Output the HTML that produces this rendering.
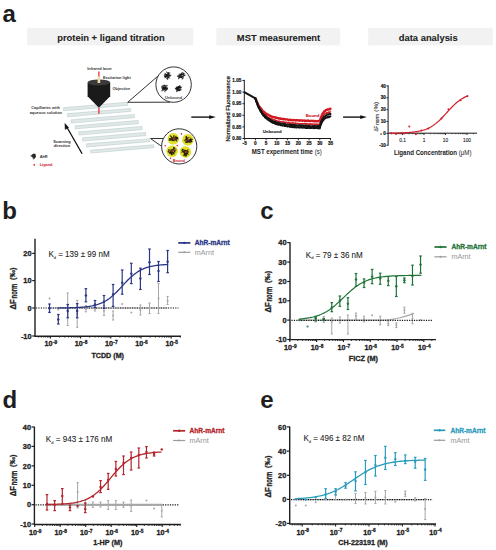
<!DOCTYPE html>
<html><head><meta charset="utf-8"><style>
html,body{margin:0;padding:0;background:#fff;}
svg{display:block;}
</style></head><body>
<svg width="496" height="550" viewBox="0 0 496 550" style='font-family:"Liberation Sans", sans-serif'>
<rect width="496" height="550" fill="#fff"/>
<text x="2.40" y="21.70" font-size="24" font-weight="bold" fill="#1e1e1e" text-anchor="start" stroke="none">a</text>
<text x="2.30" y="219.10" font-size="24" font-weight="bold" fill="#1e1e1e" text-anchor="start" stroke="none">b</text>
<text x="260.20" y="218.80" font-size="24" font-weight="bold" fill="#1e1e1e" text-anchor="start" stroke="none">c</text>
<text x="2.50" y="407.70" font-size="24" font-weight="bold" fill="#1e1e1e" text-anchor="start" stroke="none">d</text>
<text x="260.20" y="408.20" font-size="24" font-weight="bold" fill="#1e1e1e" text-anchor="start" stroke="none">e</text>
<rect x="27.2" y="27.8" width="166.1" height="17.6" fill="#f2f2f2"/>
<text x="111.00" y="40.80" font-size="9.4" font-weight="bold" fill="#222" text-anchor="middle" stroke="#222" stroke-width="0.08">protein + ligand titration</text>
<rect x="216.3" y="27.8" width="123.9" height="17.6" fill="#f2f2f2"/>
<text x="278.55" y="40.80" font-size="9.4" font-weight="bold" fill="#222" text-anchor="middle" stroke="#222" stroke-width="0.08">MST measurement</text>
<rect x="368.2" y="27.8" width="124.6" height="17.6" fill="#f2f2f2"/>
<text x="428.25" y="40.80" font-size="9.4" font-weight="bold" fill="#222" text-anchor="middle" stroke="#222" stroke-width="0.08">data analysis</text>
<line x1="63.20" y1="109.20" x2="128.00" y2="103.69" stroke="#cfdbdb" stroke-width="3.9"/>
<line x1="64.00" y1="109.20" x2="127.20" y2="103.69" stroke="#e0e8e8" stroke-width="1.9"/>
<line x1="67.10" y1="115.30" x2="131.10" y2="109.86" stroke="#cfdbdb" stroke-width="3.9"/>
<line x1="67.90" y1="115.30" x2="130.30" y2="109.86" stroke="#e0e8e8" stroke-width="1.9"/>
<line x1="70.80" y1="121.50" x2="134.80" y2="116.06" stroke="#cfdbdb" stroke-width="3.9"/>
<line x1="71.60" y1="121.50" x2="134.00" y2="116.06" stroke="#e0e8e8" stroke-width="1.9"/>
<line x1="74.70" y1="127.40" x2="138.70" y2="121.96" stroke="#cfdbdb" stroke-width="3.9"/>
<line x1="75.50" y1="127.40" x2="137.90" y2="121.96" stroke="#e0e8e8" stroke-width="1.9"/>
<line x1="78.40" y1="133.50" x2="142.40" y2="128.06" stroke="#cfdbdb" stroke-width="3.9"/>
<line x1="79.20" y1="133.50" x2="141.60" y2="128.06" stroke="#e0e8e8" stroke-width="1.9"/>
<line x1="82.10" y1="139.50" x2="146.10" y2="134.06" stroke="#cfdbdb" stroke-width="3.9"/>
<line x1="82.90" y1="139.50" x2="145.30" y2="134.06" stroke="#e0e8e8" stroke-width="1.9"/>
<line x1="86.10" y1="145.50" x2="150.00" y2="140.07" stroke="#cfdbdb" stroke-width="3.9"/>
<line x1="86.90" y1="145.50" x2="149.20" y2="140.07" stroke="#e0e8e8" stroke-width="1.9"/>
<line x1="90.20" y1="151.60" x2="154.20" y2="146.16" stroke="#cfdbdb" stroke-width="3.9"/>
<line x1="91.00" y1="151.60" x2="153.40" y2="146.16" stroke="#e0e8e8" stroke-width="1.9"/>
<path d="M87.6,82.4 L87.6,96.3 L98.9,107.8 L110.2,96.3 L110.2,82.4 Z" fill="#1a1a1a"/>
<ellipse cx="98.9" cy="82.4" rx="11.3" ry="3" fill="#3a3a3a"/>
<rect x="97.6" y="76" width="2.6" height="7" fill="#e8dcb0"/>
<line x1="98.90" y1="71.50" x2="98.90" y2="76.30" stroke="#e0202a" stroke-width="1.2"/>
<line x1="98.90" y1="108.00" x2="98.90" y2="113.80" stroke="#e0202a" stroke-width="1.2"/>
<text x="87.20" y="70.00" font-size="3.9" font-weight="bold" fill="#333" text-anchor="start">Infrared laser</text>
<text x="102.90" y="79.00" font-size="3.9" font-weight="bold" fill="#333" text-anchor="start">Excitation light</text>
<text x="112.60" y="90.20" font-size="3.9" font-weight="bold" fill="#333" text-anchor="start">Objective</text>
<text x="45.60" y="108.80" font-size="3.9" font-weight="bold" fill="#333" text-anchor="middle">Capillaries with</text>
<text x="45.80" y="113.60" font-size="3.9" font-weight="bold" fill="#333" text-anchor="middle">aqueous solution</text>
<text x="61.90" y="142.60" font-size="3.9" font-weight="bold" fill="#333" text-anchor="middle">Scanning</text>
<text x="61.90" y="147.10" font-size="3.9" font-weight="bold" fill="#333" text-anchor="middle">direction</text>
<line x1="82.10" y1="153.70" x2="66.80" y2="127.00" stroke="#111" stroke-width="1.3"/>
<path d="M64.9,123.5 L65.2,129.4 L68.6,127.5 Z" fill="#111" stroke="#111" stroke-width="0.5"/>
<path d="M33.24,155.73 Q33.54,158.02 33.57,153.75 Q34.71,155.67 33.01,156.82 Q34.26,158.68 35.34,156.66 Q32.38,154.45 34.26,158.86 Q34.08,155.69 34.73,153.86 Q33.04,157.60 35.68,155.88 Q34.81,157.06 35.25,154.33 Q34.77,153.82 30.72,155.69 Q32.05,158.08 35.02,154.16 Q35.40,154.51 33.52,155.46 Q34.05,158.21 35.26,157.20 Q35.24,157.46 32.47,154.88 Q32.71,157.56 33.47,159.48" fill="none" stroke="#222" stroke-width="0.7" stroke-linejoin="round"/>
<path d="M35.77,156.89 Q34.84,157.72 32.78,154.50 Q32.14,156.90 35.42,156.60 Q32.25,158.00 31.79,155.79 Q32.78,156.85 35.09,154.64" fill="none" stroke="#222" stroke-width="0.7" stroke-linejoin="round"/>
<text x="39.70" y="157.90" font-size="3.9" font-weight="bold" fill="#333" text-anchor="start">AhR</text>
<circle cx="34.20" cy="164.80" r="0.90" fill="#e0202a" stroke="none" stroke-width="1"/>
<text x="39.70" y="166.00" font-size="3.9" font-weight="bold" fill="#d02030" text-anchor="start">Ligand</text>
<path d="M127.7,102.3 L158,76" stroke="#333" stroke-width="1" fill="none"/>
<line x1="127.70" y1="102.30" x2="170.00" y2="102.20" stroke="#333" stroke-width="1"/>
<circle cx="173.60" cy="84.60" r="17.70" fill="#fff" stroke="#333" stroke-width="1"/>
<path d="M169.80,78.54 Q167.31,73.13 164.06,75.59 Q164.82,72.29 168.11,76.18 Q168.63,72.94 167.18,74.50 Q163.55,76.77 167.67,79.75 Q168.11,74.78 170.36,76.03 Q169.72,74.45 167.72,78.39 Q169.31,75.91 164.16,76.71 Q167.34,77.77 167.70,78.51 Q166.81,76.63 168.85,72.65 Q165.79,73.87 171.19,75.31 Q169.03,77.33 166.43,71.81 Q169.82,74.35 168.86,72.31 Q165.97,78.74 170.11,72.76" fill="none" stroke="#111" stroke-width="0.65" stroke-linejoin="round"/>
<path d="M166.47,76.76 Q166.46,74.60 165.13,75.05 Q169.28,76.33 169.21,76.01 Q168.17,76.00 164.50,76.84 Q168.27,76.65 164.93,73.26 Q165.25,74.53 168.07,75.35" fill="none" stroke="#111" stroke-width="0.65" stroke-linejoin="round"/>
<path d="M185.73,75.13 Q183.09,76.85 183.55,73.03 Q180.36,74.04 178.86,74.15 Q179.88,75.34 179.00,77.51 Q180.86,71.97 184.75,75.26 Q179.32,77.12 182.78,76.57 Q179.05,76.87 178.56,79.15 Q178.29,75.76 181.70,77.48 Q180.75,77.96 177.21,76.02 Q180.65,74.45 184.70,73.85 Q181.19,72.12 181.92,72.38 Q178.95,79.77 183.53,75.83 Q181.69,72.54 178.42,77.09 Q177.37,76.57 177.57,76.28" fill="none" stroke="#111" stroke-width="0.65" stroke-linejoin="round"/>
<path d="M182.06,79.41 Q183.50,78.24 183.07,77.17 Q183.20,76.29 180.20,74.56 Q179.39,76.97 182.64,79.04 Q183.01,77.19 183.35,76.52 Q179.05,77.97 180.68,77.18" fill="none" stroke="#111" stroke-width="0.65" stroke-linejoin="round"/>
<path d="M165.35,92.10 Q162.72,91.33 164.06,87.75 Q169.13,89.13 164.97,91.09 Q168.20,88.72 166.71,86.13 Q163.86,87.32 162.38,85.72 Q161.32,88.25 164.41,87.51 Q165.28,85.36 164.71,89.98 Q167.16,86.48 164.29,84.74 Q164.15,84.68 161.97,91.23 Q161.09,90.25 166.30,87.65 Q166.56,90.48 168.03,88.15 Q163.32,86.98 162.26,88.67 Q163.07,91.56 161.48,86.68 Q163.34,84.93 167.82,85.36" fill="none" stroke="#111" stroke-width="0.65" stroke-linejoin="round"/>
<path d="M163.12,89.27 Q167.03,91.09 167.42,88.89 Q166.01,88.12 162.70,87.95 Q167.08,89.32 164.46,86.68 Q164.88,87.39 165.19,90.06 Q162.02,88.68 162.71,87.27" fill="none" stroke="#111" stroke-width="0.65" stroke-linejoin="round"/>
<path d="M178.15,90.49 Q176.45,89.99 180.64,89.97 Q181.45,86.85 178.21,86.56 Q175.60,88.24 178.80,90.31 Q178.94,92.94 179.89,85.30 Q178.66,86.78 176.70,92.09 Q177.54,84.74 179.17,87.70 Q175.13,86.55 175.94,88.72 Q176.41,89.07 181.77,87.16 Q175.57,88.05 180.85,86.96 Q181.01,86.06 175.07,88.65 Q175.58,87.06 179.36,90.98 Q178.51,87.57 181.39,89.81 Q177.38,92.03 175.35,89.28" fill="none" stroke="#111" stroke-width="0.65" stroke-linejoin="round"/>
<path d="M176.05,87.86 Q176.60,88.05 179.13,86.11 Q177.18,87.62 176.09,88.55 Q178.00,91.93 178.97,88.78 Q179.61,86.86 176.67,90.02 Q176.99,86.82 176.97,86.37" fill="none" stroke="#111" stroke-width="0.65" stroke-linejoin="round"/>
<text x="173.60" y="98.50" font-size="3.9" font-weight="bold" fill="#444" text-anchor="middle">Unbound</text>
<line x1="150.50" y1="138.50" x2="163.00" y2="138.50" stroke="#333" stroke-width="1"/>
<line x1="150.50" y1="138.50" x2="161.70" y2="146.40" stroke="#333" stroke-width="1"/>
<circle cx="179.20" cy="146.40" r="17.60" fill="#fff" stroke="#333" stroke-width="1"/>
<circle cx="173.30" cy="138.80" r="5.80" fill="#e4df2a" stroke="none" stroke-width="1"/>
<path d="M169.73,139.90 Q176.36,137.22 169.48,138.61 Q174.73,142.09 170.29,135.60 Q175.67,140.39 177.03,141.19 Q172.79,137.42 178.09,138.26 Q171.08,135.59 173.98,139.84 Q171.73,138.52 174.25,141.21 Q176.67,139.44 169.09,140.45 Q169.35,138.32 169.26,138.81 Q170.65,139.53 178.19,138.73 Q175.54,135.29 172.29,141.13 Q172.89,140.42 173.63,135.60 Q175.10,136.20 177.67,137.62 Q175.75,138.81 176.22,136.95 Q176.48,138.41 176.84,140.55" fill="none" stroke="#1a1a10" stroke-width="0.75" stroke-linejoin="round"/>
<circle cx="173.60" cy="138.80" r="1.00" fill="#d8202a" stroke="none" stroke-width="1"/>
<circle cx="187.80" cy="139.80" r="5.80" fill="#e4df2a" stroke="none" stroke-width="1"/>
<path d="M183.83,140.44 Q186.74,137.97 190.91,140.01 Q187.13,144.19 186.39,136.20 Q184.03,138.36 189.85,142.45 Q190.25,143.78 191.96,141.41 Q191.46,141.66 186.12,142.56 Q188.50,138.73 192.16,141.55 Q185.99,139.70 192.56,139.41 Q190.30,141.94 189.71,141.97 Q186.20,138.27 187.30,138.35 Q189.91,143.72 185.14,141.72 Q184.94,137.83 186.77,140.71 Q187.09,135.03 191.80,139.20 Q185.89,142.22 186.30,136.01 Q189.73,141.48 185.46,142.52" fill="none" stroke="#1a1a10" stroke-width="0.75" stroke-linejoin="round"/>
<circle cx="188.10" cy="139.80" r="1.00" fill="#d8202a" stroke="none" stroke-width="1"/>
<circle cx="172.10" cy="151.30" r="5.80" fill="#e4df2a" stroke="none" stroke-width="1"/>
<path d="M171.87,155.40 Q170.27,147.15 173.10,153.64 Q173.62,153.31 171.90,149.27 Q169.68,150.82 171.18,154.49 Q174.13,147.99 174.83,151.55 Q174.87,154.96 173.72,147.18 Q174.07,147.52 176.27,149.92 Q171.91,155.83 167.82,151.66 Q169.05,150.00 169.92,153.80 Q171.33,153.11 173.97,147.31 Q176.20,150.93 168.07,149.87 Q174.80,154.36 169.96,152.10 Q173.16,154.76 172.03,154.72 Q169.58,149.33 174.50,153.88 Q172.33,153.85 173.16,154.21" fill="none" stroke="#1a1a10" stroke-width="0.75" stroke-linejoin="round"/>
<circle cx="172.40" cy="151.30" r="1.00" fill="#d8202a" stroke="none" stroke-width="1"/>
<circle cx="185.40" cy="152.00" r="5.80" fill="#e4df2a" stroke="none" stroke-width="1"/>
<path d="M188.65,154.58 Q182.65,148.11 185.05,154.63 Q185.00,147.99 184.06,155.87 Q181.93,154.63 187.25,153.70 Q187.89,150.22 185.11,156.41 Q183.95,150.42 181.57,150.72 Q187.44,155.45 187.53,154.08 Q187.50,153.21 188.60,151.56 Q188.74,151.80 181.82,149.13 Q184.65,150.22 182.05,149.90 Q186.17,153.66 187.94,149.46 Q186.57,155.19 186.27,156.32 Q183.52,151.99 186.15,150.36 Q185.14,153.33 185.28,150.05 Q183.60,151.71 181.33,152.50" fill="none" stroke="#1a1a10" stroke-width="0.75" stroke-linejoin="round"/>
<circle cx="185.70" cy="152.00" r="1.00" fill="#d8202a" stroke="none" stroke-width="1"/>
<circle cx="181.40" cy="133.90" r="0.80" fill="#e0202a" stroke="none" stroke-width="1"/>
<circle cx="165.20" cy="145.80" r="0.80" fill="#e0202a" stroke="none" stroke-width="1"/>
<circle cx="177.30" cy="145.60" r="0.80" fill="#e0202a" stroke="none" stroke-width="1"/>
<circle cx="170.50" cy="158.20" r="0.80" fill="#e0202a" stroke="none" stroke-width="1"/>
<text x="178.80" y="161.50" font-size="3.9" font-weight="bold" fill="#d02030" text-anchor="middle">Bound</text>
<line x1="191.30" y1="117.10" x2="210.00" y2="117.10" stroke="#111" stroke-width="1.4"/>
<path d="M209.2,115.2 L215.8,117.1 L209.2,119.0 Z" fill="#111"/>
<line x1="343.10" y1="117.10" x2="361.00" y2="117.10" stroke="#111" stroke-width="1.4"/>
<path d="M360.2,115.2 L366.8,117.1 L360.2,119.0 Z" fill="#111"/>
<line x1="35.00" y1="238.70" x2="35.00" y2="336.50" stroke="#1e1e1e" stroke-width="1.4"/>
<line x1="32.20" y1="253.40" x2="35.00" y2="253.40" stroke="#1e1e1e" stroke-width="1.2"/>
<text stroke="#1e1e1e" stroke-width="0.3" x="31.60" y="256.05" font-size="7.4" font-weight="bold" fill="#1e1e1e" text-anchor="end">20</text>
<line x1="32.20" y1="280.60" x2="35.00" y2="280.60" stroke="#1e1e1e" stroke-width="1.2"/>
<text stroke="#1e1e1e" stroke-width="0.3" x="31.60" y="283.25" font-size="7.4" font-weight="bold" fill="#1e1e1e" text-anchor="end">10</text>
<line x1="32.20" y1="308.00" x2="35.00" y2="308.00" stroke="#1e1e1e" stroke-width="1.2"/>
<text stroke="#1e1e1e" stroke-width="0.3" x="31.60" y="310.65" font-size="7.4" font-weight="bold" fill="#1e1e1e" text-anchor="end">0</text>
<line x1="32.20" y1="336.00" x2="35.00" y2="336.00" stroke="#1e1e1e" stroke-width="1.2"/>
<text stroke="#1e1e1e" stroke-width="0.3" x="31.60" y="338.65" font-size="7.4" font-weight="bold" fill="#1e1e1e" text-anchor="end">-10</text>
<line x1="34.50" y1="336.20" x2="181.00" y2="336.20" stroke="#1e1e1e" stroke-width="1.4"/>
<line x1="38.38" y1="336.20" x2="38.38" y2="337.60" stroke="#1e1e1e" stroke-width="0.9"/>
<line x1="41.31" y1="336.20" x2="41.31" y2="337.60" stroke="#1e1e1e" stroke-width="0.9"/>
<line x1="43.70" y1="336.20" x2="43.70" y2="337.60" stroke="#1e1e1e" stroke-width="0.9"/>
<line x1="45.72" y1="336.20" x2="45.72" y2="337.60" stroke="#1e1e1e" stroke-width="0.9"/>
<line x1="47.47" y1="336.20" x2="47.47" y2="337.60" stroke="#1e1e1e" stroke-width="0.9"/>
<line x1="49.02" y1="336.20" x2="49.02" y2="337.60" stroke="#1e1e1e" stroke-width="0.9"/>
<line x1="59.49" y1="336.20" x2="59.49" y2="337.60" stroke="#1e1e1e" stroke-width="0.9"/>
<line x1="64.81" y1="336.20" x2="64.81" y2="337.60" stroke="#1e1e1e" stroke-width="0.9"/>
<line x1="68.58" y1="336.20" x2="68.58" y2="337.60" stroke="#1e1e1e" stroke-width="0.9"/>
<line x1="71.51" y1="336.20" x2="71.51" y2="337.60" stroke="#1e1e1e" stroke-width="0.9"/>
<line x1="73.90" y1="336.20" x2="73.90" y2="337.60" stroke="#1e1e1e" stroke-width="0.9"/>
<line x1="75.92" y1="336.20" x2="75.92" y2="337.60" stroke="#1e1e1e" stroke-width="0.9"/>
<line x1="77.67" y1="336.20" x2="77.67" y2="337.60" stroke="#1e1e1e" stroke-width="0.9"/>
<line x1="79.22" y1="336.20" x2="79.22" y2="337.60" stroke="#1e1e1e" stroke-width="0.9"/>
<line x1="89.69" y1="336.20" x2="89.69" y2="337.60" stroke="#1e1e1e" stroke-width="0.9"/>
<line x1="95.01" y1="336.20" x2="95.01" y2="337.60" stroke="#1e1e1e" stroke-width="0.9"/>
<line x1="98.78" y1="336.20" x2="98.78" y2="337.60" stroke="#1e1e1e" stroke-width="0.9"/>
<line x1="101.71" y1="336.20" x2="101.71" y2="337.60" stroke="#1e1e1e" stroke-width="0.9"/>
<line x1="104.10" y1="336.20" x2="104.10" y2="337.60" stroke="#1e1e1e" stroke-width="0.9"/>
<line x1="106.12" y1="336.20" x2="106.12" y2="337.60" stroke="#1e1e1e" stroke-width="0.9"/>
<line x1="107.87" y1="336.20" x2="107.87" y2="337.60" stroke="#1e1e1e" stroke-width="0.9"/>
<line x1="109.42" y1="336.20" x2="109.42" y2="337.60" stroke="#1e1e1e" stroke-width="0.9"/>
<line x1="119.89" y1="336.20" x2="119.89" y2="337.60" stroke="#1e1e1e" stroke-width="0.9"/>
<line x1="125.21" y1="336.20" x2="125.21" y2="337.60" stroke="#1e1e1e" stroke-width="0.9"/>
<line x1="128.98" y1="336.20" x2="128.98" y2="337.60" stroke="#1e1e1e" stroke-width="0.9"/>
<line x1="131.91" y1="336.20" x2="131.91" y2="337.60" stroke="#1e1e1e" stroke-width="0.9"/>
<line x1="134.30" y1="336.20" x2="134.30" y2="337.60" stroke="#1e1e1e" stroke-width="0.9"/>
<line x1="136.32" y1="336.20" x2="136.32" y2="337.60" stroke="#1e1e1e" stroke-width="0.9"/>
<line x1="138.07" y1="336.20" x2="138.07" y2="337.60" stroke="#1e1e1e" stroke-width="0.9"/>
<line x1="139.62" y1="336.20" x2="139.62" y2="337.60" stroke="#1e1e1e" stroke-width="0.9"/>
<line x1="150.09" y1="336.20" x2="150.09" y2="337.60" stroke="#1e1e1e" stroke-width="0.9"/>
<line x1="155.41" y1="336.20" x2="155.41" y2="337.60" stroke="#1e1e1e" stroke-width="0.9"/>
<line x1="159.18" y1="336.20" x2="159.18" y2="337.60" stroke="#1e1e1e" stroke-width="0.9"/>
<line x1="162.11" y1="336.20" x2="162.11" y2="337.60" stroke="#1e1e1e" stroke-width="0.9"/>
<line x1="164.50" y1="336.20" x2="164.50" y2="337.60" stroke="#1e1e1e" stroke-width="0.9"/>
<line x1="166.52" y1="336.20" x2="166.52" y2="337.60" stroke="#1e1e1e" stroke-width="0.9"/>
<line x1="168.27" y1="336.20" x2="168.27" y2="337.60" stroke="#1e1e1e" stroke-width="0.9"/>
<line x1="169.82" y1="336.20" x2="169.82" y2="337.60" stroke="#1e1e1e" stroke-width="0.9"/>
<line x1="180.29" y1="336.20" x2="180.29" y2="337.60" stroke="#1e1e1e" stroke-width="0.9"/>
<line x1="50.40" y1="336.20" x2="50.40" y2="338.60" stroke="#1e1e1e" stroke-width="1.1"/>
<text stroke="#1e1e1e" stroke-width="0.3" x="50.90" y="346.40" font-size="7.2" font-weight="bold" fill="#1e1e1e" text-anchor="middle">10<tspan font-size="4.8" dy="-2.38" dx="0.3">-9</tspan></text>
<line x1="80.60" y1="336.20" x2="80.60" y2="338.60" stroke="#1e1e1e" stroke-width="1.1"/>
<text stroke="#1e1e1e" stroke-width="0.3" x="81.10" y="346.40" font-size="7.2" font-weight="bold" fill="#1e1e1e" text-anchor="middle">10<tspan font-size="4.8" dy="-2.38" dx="0.3">-8</tspan></text>
<line x1="110.80" y1="336.20" x2="110.80" y2="338.60" stroke="#1e1e1e" stroke-width="1.1"/>
<text stroke="#1e1e1e" stroke-width="0.3" x="111.30" y="346.40" font-size="7.2" font-weight="bold" fill="#1e1e1e" text-anchor="middle">10<tspan font-size="4.8" dy="-2.38" dx="0.3">-7</tspan></text>
<line x1="141.00" y1="336.20" x2="141.00" y2="338.60" stroke="#1e1e1e" stroke-width="1.1"/>
<text stroke="#1e1e1e" stroke-width="0.3" x="141.50" y="346.40" font-size="7.2" font-weight="bold" fill="#1e1e1e" text-anchor="middle">10<tspan font-size="4.8" dy="-2.38" dx="0.3">-6</tspan></text>
<line x1="171.20" y1="336.20" x2="171.20" y2="338.60" stroke="#1e1e1e" stroke-width="1.1"/>
<text stroke="#1e1e1e" stroke-width="0.3" x="171.70" y="346.40" font-size="7.2" font-weight="bold" fill="#1e1e1e" text-anchor="middle">10<tspan font-size="4.8" dy="-2.38" dx="0.3">-5</tspan></text>
<text stroke="#1e1e1e" stroke-width="0.3" x="107.70" y="358.20" font-size="7.5" font-weight="bold" fill="#1e1e1e" text-anchor="middle" textLength="32.6" lengthAdjust="spacingAndGlyphs">TCDD (M)</text>
<text stroke="#1e1e1e" stroke-width="0.3" x="15.90" y="309.40" font-size="9.8" font-weight="bold" fill="#1e1e1e" transform="rotate(-90 15.90 309.40)" textLength="10.2" lengthAdjust="spacingAndGlyphs">ΔF</text>
<text stroke="#1e1e1e" stroke-width="0.3" x="16.80" y="298.40" font-size="8.7" font-weight="bold" fill="#1e1e1e" transform="rotate(-90 16.80 298.40)" textLength="14.6" lengthAdjust="spacingAndGlyphs">norm</text>
<text stroke="#1e1e1e" stroke-width="0.3" x="14.80" y="280.00" font-size="7.8" font-weight="bold" fill="#1e1e1e" transform="rotate(-90 14.80 280.00)" textLength="12.4" lengthAdjust="spacingAndGlyphs">(‰)</text>
<text x="48.40" y="257.40" font-size="8.8" fill="#222" stroke="#222" stroke-width="0.08" textLength="61.2" lengthAdjust="spacingAndGlyphs">K<tspan font-size="4.40" dy="1.76">d</tspan><tspan dy="-1.76"> = 139 ± 99 nM</tspan></text>
<line x1="49.50" y1="308.00" x2="167.60" y2="308.00" stroke="#a6a6a6" stroke-width="1.2"/>
<line x1="36.00" y1="308.00" x2="178.50" y2="308.00" stroke="#111" stroke-width="1.2" stroke-dasharray="1.2 1.2"/>
<circle cx="49.50" cy="298.50" r="1.00" fill="#a6a6a6" stroke="none" stroke-width="1"/>
<circle cx="58.30" cy="309.60" r="1.00" fill="#a6a6a6" stroke="none" stroke-width="1"/>
<line x1="67.70" y1="293.00" x2="67.70" y2="325.50" stroke="#a6a6a6" stroke-width="1.0"/>
<line x1="66.60" y1="293.00" x2="68.80" y2="293.00" stroke="#a6a6a6" stroke-width="1.0"/>
<line x1="66.60" y1="325.50" x2="68.80" y2="325.50" stroke="#a6a6a6" stroke-width="1.0"/>
<circle cx="67.70" cy="309.00" r="1.00" fill="#a6a6a6" stroke="none" stroke-width="1"/>
<line x1="77.20" y1="300.40" x2="77.20" y2="327.30" stroke="#a6a6a6" stroke-width="1.0"/>
<line x1="76.10" y1="300.40" x2="78.30" y2="300.40" stroke="#a6a6a6" stroke-width="1.0"/>
<line x1="76.10" y1="327.30" x2="78.30" y2="327.30" stroke="#a6a6a6" stroke-width="1.0"/>
<circle cx="77.20" cy="314.00" r="1.00" fill="#a6a6a6" stroke="none" stroke-width="1"/>
<line x1="85.90" y1="305.50" x2="85.90" y2="311.80" stroke="#a6a6a6" stroke-width="1.0"/>
<line x1="84.80" y1="305.50" x2="87.00" y2="305.50" stroke="#a6a6a6" stroke-width="1.0"/>
<line x1="84.80" y1="311.80" x2="87.00" y2="311.80" stroke="#a6a6a6" stroke-width="1.0"/>
<circle cx="85.90" cy="309.00" r="1.00" fill="#a6a6a6" stroke="none" stroke-width="1"/>
<line x1="95.00" y1="305.00" x2="95.00" y2="311.00" stroke="#a6a6a6" stroke-width="1.0"/>
<line x1="93.90" y1="305.00" x2="96.10" y2="305.00" stroke="#a6a6a6" stroke-width="1.0"/>
<line x1="93.90" y1="311.00" x2="96.10" y2="311.00" stroke="#a6a6a6" stroke-width="1.0"/>
<circle cx="95.00" cy="309.00" r="1.00" fill="#a6a6a6" stroke="none" stroke-width="1"/>
<line x1="104.00" y1="305.50" x2="104.00" y2="315.50" stroke="#a6a6a6" stroke-width="1.0"/>
<line x1="102.90" y1="305.50" x2="105.10" y2="305.50" stroke="#a6a6a6" stroke-width="1.0"/>
<line x1="102.90" y1="315.50" x2="105.10" y2="315.50" stroke="#a6a6a6" stroke-width="1.0"/>
<circle cx="104.00" cy="311.00" r="1.00" fill="#a6a6a6" stroke="none" stroke-width="1"/>
<line x1="113.10" y1="311.00" x2="113.10" y2="320.00" stroke="#a6a6a6" stroke-width="1.0"/>
<line x1="112.00" y1="311.00" x2="114.20" y2="311.00" stroke="#a6a6a6" stroke-width="1.0"/>
<line x1="112.00" y1="320.00" x2="114.20" y2="320.00" stroke="#a6a6a6" stroke-width="1.0"/>
<circle cx="113.10" cy="315.50" r="1.00" fill="#a6a6a6" stroke="none" stroke-width="1"/>
<circle cx="122.20" cy="304.00" r="1.00" fill="#a6a6a6" stroke="none" stroke-width="1"/>
<circle cx="131.30" cy="312.40" r="1.00" fill="#a6a6a6" stroke="none" stroke-width="1"/>
<line x1="140.40" y1="305.00" x2="140.40" y2="315.00" stroke="#a6a6a6" stroke-width="1.0"/>
<line x1="139.30" y1="305.00" x2="141.50" y2="305.00" stroke="#a6a6a6" stroke-width="1.0"/>
<line x1="139.30" y1="315.00" x2="141.50" y2="315.00" stroke="#a6a6a6" stroke-width="1.0"/>
<circle cx="140.40" cy="310.00" r="1.00" fill="#a6a6a6" stroke="none" stroke-width="1"/>
<line x1="149.50" y1="303.00" x2="149.50" y2="313.60" stroke="#a6a6a6" stroke-width="1.0"/>
<line x1="148.40" y1="303.00" x2="150.60" y2="303.00" stroke="#a6a6a6" stroke-width="1.0"/>
<line x1="148.40" y1="313.60" x2="150.60" y2="313.60" stroke="#a6a6a6" stroke-width="1.0"/>
<circle cx="149.50" cy="308.00" r="1.00" fill="#a6a6a6" stroke="none" stroke-width="1"/>
<line x1="158.50" y1="283.60" x2="158.50" y2="313.60" stroke="#a6a6a6" stroke-width="1.0"/>
<line x1="157.40" y1="283.60" x2="159.60" y2="283.60" stroke="#a6a6a6" stroke-width="1.0"/>
<line x1="157.40" y1="313.60" x2="159.60" y2="313.60" stroke="#a6a6a6" stroke-width="1.0"/>
<circle cx="158.50" cy="298.50" r="1.00" fill="#a6a6a6" stroke="none" stroke-width="1"/>
<line x1="167.60" y1="296.40" x2="167.60" y2="304.50" stroke="#a6a6a6" stroke-width="1.0"/>
<line x1="166.50" y1="296.40" x2="168.70" y2="296.40" stroke="#a6a6a6" stroke-width="1.0"/>
<line x1="166.50" y1="304.50" x2="168.70" y2="304.50" stroke="#a6a6a6" stroke-width="1.0"/>
<circle cx="167.60" cy="301.00" r="1.00" fill="#a6a6a6" stroke="none" stroke-width="1"/>
<polyline points="58.00,307.92 59.37,307.91 60.74,307.90 62.11,307.89 63.48,307.87 64.85,307.85 66.22,307.83 67.59,307.81 68.96,307.78 70.33,307.75 71.70,307.71 73.07,307.67 74.44,307.62 75.81,307.56 77.18,307.50 78.55,307.43 79.92,307.35 81.29,307.26 82.66,307.15 84.03,307.03 85.40,306.89 86.77,306.73 88.14,306.56 89.51,306.35 90.88,306.12 92.25,305.87 93.62,305.57 94.99,305.24 96.36,304.87 97.73,304.45 99.10,303.98 100.47,303.46 101.84,302.87 103.21,302.22 104.58,301.51 105.95,300.72 107.32,299.86 108.69,298.92 110.06,297.90 111.43,296.80 112.80,295.63 114.17,294.39 115.54,293.08 116.91,291.72 118.28,290.30 119.65,288.85 121.02,287.37 122.39,285.88 123.76,284.38 125.13,282.91 126.50,281.46 127.87,280.05 129.24,278.69 130.61,277.40 131.98,276.17 133.35,275.01 134.72,273.93 136.09,272.92 137.46,271.99 138.83,271.14 140.20,270.37 141.57,269.66 142.94,269.03 144.31,268.45 145.68,267.94 147.05,267.48 148.42,267.07 149.79,266.70 151.16,266.38 152.53,266.09 153.90,265.84 155.27,265.61 156.64,265.41 158.01,265.24 159.38,265.08 160.75,264.95 162.12,264.83 163.49,264.73 164.86,264.64 166.23,264.56 167.60,264.49" fill="none" stroke="#2b3684" stroke-width="1.3" stroke-linejoin="round" stroke-linecap="round"/>
<line x1="49.50" y1="304.00" x2="49.50" y2="312.40" stroke="#2b3684" stroke-width="1.2"/>
<line x1="48.20" y1="304.00" x2="50.80" y2="304.00" stroke="#2b3684" stroke-width="1.2"/>
<line x1="48.20" y1="312.40" x2="50.80" y2="312.40" stroke="#2b3684" stroke-width="1.2"/>
<circle cx="49.50" cy="308.20" r="1.20" fill="#2b3684" stroke="none" stroke-width="1"/>
<line x1="58.30" y1="314.50" x2="58.30" y2="324.00" stroke="#2b3684" stroke-width="1.2"/>
<line x1="57.00" y1="314.50" x2="59.60" y2="314.50" stroke="#2b3684" stroke-width="1.2"/>
<line x1="57.00" y1="324.00" x2="59.60" y2="324.00" stroke="#2b3684" stroke-width="1.2"/>
<circle cx="58.30" cy="319.50" r="1.20" fill="#2b3684" stroke="none" stroke-width="1"/>
<line x1="67.70" y1="304.50" x2="67.70" y2="317.80" stroke="#2b3684" stroke-width="1.2"/>
<line x1="66.40" y1="304.50" x2="69.00" y2="304.50" stroke="#2b3684" stroke-width="1.2"/>
<line x1="66.40" y1="317.80" x2="69.00" y2="317.80" stroke="#2b3684" stroke-width="1.2"/>
<circle cx="67.70" cy="311.00" r="1.20" fill="#2b3684" stroke="none" stroke-width="1"/>
<line x1="77.20" y1="303.60" x2="77.20" y2="317.80" stroke="#2b3684" stroke-width="1.2"/>
<line x1="75.90" y1="303.60" x2="78.50" y2="303.60" stroke="#2b3684" stroke-width="1.2"/>
<line x1="75.90" y1="317.80" x2="78.50" y2="317.80" stroke="#2b3684" stroke-width="1.2"/>
<circle cx="77.20" cy="311.00" r="1.20" fill="#2b3684" stroke="none" stroke-width="1"/>
<line x1="85.90" y1="288.70" x2="85.90" y2="301.80" stroke="#2b3684" stroke-width="1.2"/>
<line x1="84.60" y1="288.70" x2="87.20" y2="288.70" stroke="#2b3684" stroke-width="1.2"/>
<line x1="84.60" y1="301.80" x2="87.20" y2="301.80" stroke="#2b3684" stroke-width="1.2"/>
<circle cx="85.90" cy="295.50" r="1.20" fill="#2b3684" stroke="none" stroke-width="1"/>
<line x1="95.00" y1="300.50" x2="95.00" y2="307.60" stroke="#2b3684" stroke-width="1.2"/>
<line x1="93.70" y1="300.50" x2="96.30" y2="300.50" stroke="#2b3684" stroke-width="1.2"/>
<line x1="93.70" y1="307.60" x2="96.30" y2="307.60" stroke="#2b3684" stroke-width="1.2"/>
<circle cx="95.00" cy="304.50" r="1.20" fill="#2b3684" stroke="none" stroke-width="1"/>
<line x1="104.00" y1="295.50" x2="104.00" y2="308.40" stroke="#2b3684" stroke-width="1.2"/>
<line x1="102.70" y1="295.50" x2="105.30" y2="295.50" stroke="#2b3684" stroke-width="1.2"/>
<line x1="102.70" y1="308.40" x2="105.30" y2="308.40" stroke="#2b3684" stroke-width="1.2"/>
<circle cx="104.00" cy="301.80" r="1.20" fill="#2b3684" stroke="none" stroke-width="1"/>
<line x1="113.10" y1="284.50" x2="113.10" y2="306.40" stroke="#2b3684" stroke-width="1.2"/>
<line x1="111.80" y1="284.50" x2="114.40" y2="284.50" stroke="#2b3684" stroke-width="1.2"/>
<line x1="111.80" y1="306.40" x2="114.40" y2="306.40" stroke="#2b3684" stroke-width="1.2"/>
<circle cx="113.10" cy="294.50" r="1.20" fill="#2b3684" stroke="none" stroke-width="1"/>
<line x1="122.20" y1="270.00" x2="122.20" y2="294.20" stroke="#2b3684" stroke-width="1.2"/>
<line x1="120.90" y1="270.00" x2="123.50" y2="270.00" stroke="#2b3684" stroke-width="1.2"/>
<line x1="120.90" y1="294.20" x2="123.50" y2="294.20" stroke="#2b3684" stroke-width="1.2"/>
<circle cx="122.20" cy="282.70" r="1.20" fill="#2b3684" stroke="none" stroke-width="1"/>
<line x1="131.30" y1="263.30" x2="131.30" y2="283.60" stroke="#2b3684" stroke-width="1.2"/>
<line x1="130.00" y1="263.30" x2="132.60" y2="263.30" stroke="#2b3684" stroke-width="1.2"/>
<line x1="130.00" y1="283.60" x2="132.60" y2="283.60" stroke="#2b3684" stroke-width="1.2"/>
<circle cx="131.30" cy="273.60" r="1.20" fill="#2b3684" stroke="none" stroke-width="1"/>
<line x1="140.40" y1="268.20" x2="140.40" y2="289.50" stroke="#2b3684" stroke-width="1.2"/>
<line x1="139.10" y1="268.20" x2="141.70" y2="268.20" stroke="#2b3684" stroke-width="1.2"/>
<line x1="139.10" y1="289.50" x2="141.70" y2="289.50" stroke="#2b3684" stroke-width="1.2"/>
<circle cx="140.40" cy="278.50" r="1.20" fill="#2b3684" stroke="none" stroke-width="1"/>
<line x1="149.50" y1="249.00" x2="149.50" y2="274.50" stroke="#2b3684" stroke-width="1.2"/>
<line x1="148.20" y1="249.00" x2="150.80" y2="249.00" stroke="#2b3684" stroke-width="1.2"/>
<line x1="148.20" y1="274.50" x2="150.80" y2="274.50" stroke="#2b3684" stroke-width="1.2"/>
<circle cx="149.50" cy="262.20" r="1.20" fill="#2b3684" stroke="none" stroke-width="1"/>
<line x1="158.50" y1="261.50" x2="158.50" y2="281.50" stroke="#2b3684" stroke-width="1.2"/>
<line x1="157.20" y1="261.50" x2="159.80" y2="261.50" stroke="#2b3684" stroke-width="1.2"/>
<line x1="157.20" y1="281.50" x2="159.80" y2="281.50" stroke="#2b3684" stroke-width="1.2"/>
<circle cx="158.50" cy="271.00" r="1.20" fill="#2b3684" stroke="none" stroke-width="1"/>
<line x1="167.60" y1="250.50" x2="167.60" y2="272.70" stroke="#2b3684" stroke-width="1.2"/>
<line x1="166.30" y1="250.50" x2="168.90" y2="250.50" stroke="#2b3684" stroke-width="1.2"/>
<line x1="166.30" y1="272.70" x2="168.90" y2="272.70" stroke="#2b3684" stroke-width="1.2"/>
<circle cx="167.60" cy="261.80" r="1.20" fill="#2b3684" stroke="none" stroke-width="1"/>
<line x1="178.20" y1="242.90" x2="190.40" y2="242.90" stroke="#2b3684" stroke-width="1.7"/>
<circle cx="184.30" cy="242.90" r="1.20" fill="#2b3684" stroke="none" stroke-width="1"/>
<text stroke="#2b3684" stroke-width="0.3" x="194.80" y="245.33" font-size="6.8" font-weight="bold" fill="#2b3684" textLength="35" lengthAdjust="spacingAndGlyphs">AhR-mArnt</text>
<line x1="178.20" y1="252.30" x2="190.40" y2="252.30" stroke="#9c9c9c" stroke-width="1.2"/>
<circle cx="184.30" cy="252.30" r="1.00" fill="#9c9c9c" stroke="none" stroke-width="1"/>
<text x="194.80" y="254.93" font-size="7.1" fill="#9c9c9c" stroke="#9c9c9c" stroke-width="0.05" textLength="19.2" lengthAdjust="spacingAndGlyphs">mArnt</text>
<line x1="290.00" y1="242.30" x2="290.00" y2="340.20" stroke="#1e1e1e" stroke-width="1.4"/>
<line x1="287.20" y1="242.60" x2="290.00" y2="242.60" stroke="#1e1e1e" stroke-width="1.2"/>
<text stroke="#1e1e1e" stroke-width="0.3" x="286.60" y="245.25" font-size="7.4" font-weight="bold" fill="#1e1e1e" text-anchor="end">40</text>
<line x1="287.20" y1="262.10" x2="290.00" y2="262.10" stroke="#1e1e1e" stroke-width="1.2"/>
<text stroke="#1e1e1e" stroke-width="0.3" x="286.60" y="264.75" font-size="7.4" font-weight="bold" fill="#1e1e1e" text-anchor="end">30</text>
<line x1="287.20" y1="281.50" x2="290.00" y2="281.50" stroke="#1e1e1e" stroke-width="1.2"/>
<text stroke="#1e1e1e" stroke-width="0.3" x="286.60" y="284.15" font-size="7.4" font-weight="bold" fill="#1e1e1e" text-anchor="end">20</text>
<line x1="287.20" y1="300.80" x2="290.00" y2="300.80" stroke="#1e1e1e" stroke-width="1.2"/>
<text stroke="#1e1e1e" stroke-width="0.3" x="286.60" y="303.45" font-size="7.4" font-weight="bold" fill="#1e1e1e" text-anchor="end">10</text>
<line x1="287.20" y1="320.10" x2="290.00" y2="320.10" stroke="#1e1e1e" stroke-width="1.2"/>
<text stroke="#1e1e1e" stroke-width="0.3" x="286.60" y="322.75" font-size="7.4" font-weight="bold" fill="#1e1e1e" text-anchor="end">0</text>
<line x1="287.20" y1="339.50" x2="290.00" y2="339.50" stroke="#1e1e1e" stroke-width="1.2"/>
<text stroke="#1e1e1e" stroke-width="0.3" x="286.60" y="342.15" font-size="7.4" font-weight="bold" fill="#1e1e1e" text-anchor="end">-10</text>
<line x1="289.50" y1="339.60" x2="436.00" y2="339.60" stroke="#1e1e1e" stroke-width="1.4"/>
<line x1="297.87" y1="339.60" x2="297.87" y2="341.00" stroke="#1e1e1e" stroke-width="0.9"/>
<line x1="302.59" y1="339.60" x2="302.59" y2="341.00" stroke="#1e1e1e" stroke-width="0.9"/>
<line x1="305.94" y1="339.60" x2="305.94" y2="341.00" stroke="#1e1e1e" stroke-width="0.9"/>
<line x1="308.53" y1="339.60" x2="308.53" y2="341.00" stroke="#1e1e1e" stroke-width="0.9"/>
<line x1="310.65" y1="339.60" x2="310.65" y2="341.00" stroke="#1e1e1e" stroke-width="0.9"/>
<line x1="312.45" y1="339.60" x2="312.45" y2="341.00" stroke="#1e1e1e" stroke-width="0.9"/>
<line x1="314.00" y1="339.60" x2="314.00" y2="341.00" stroke="#1e1e1e" stroke-width="0.9"/>
<line x1="315.37" y1="339.60" x2="315.37" y2="341.00" stroke="#1e1e1e" stroke-width="0.9"/>
<line x1="324.67" y1="339.60" x2="324.67" y2="341.00" stroke="#1e1e1e" stroke-width="0.9"/>
<line x1="329.39" y1="339.60" x2="329.39" y2="341.00" stroke="#1e1e1e" stroke-width="0.9"/>
<line x1="332.74" y1="339.60" x2="332.74" y2="341.00" stroke="#1e1e1e" stroke-width="0.9"/>
<line x1="335.33" y1="339.60" x2="335.33" y2="341.00" stroke="#1e1e1e" stroke-width="0.9"/>
<line x1="337.45" y1="339.60" x2="337.45" y2="341.00" stroke="#1e1e1e" stroke-width="0.9"/>
<line x1="339.25" y1="339.60" x2="339.25" y2="341.00" stroke="#1e1e1e" stroke-width="0.9"/>
<line x1="340.80" y1="339.60" x2="340.80" y2="341.00" stroke="#1e1e1e" stroke-width="0.9"/>
<line x1="342.17" y1="339.60" x2="342.17" y2="341.00" stroke="#1e1e1e" stroke-width="0.9"/>
<line x1="351.47" y1="339.60" x2="351.47" y2="341.00" stroke="#1e1e1e" stroke-width="0.9"/>
<line x1="356.19" y1="339.60" x2="356.19" y2="341.00" stroke="#1e1e1e" stroke-width="0.9"/>
<line x1="359.54" y1="339.60" x2="359.54" y2="341.00" stroke="#1e1e1e" stroke-width="0.9"/>
<line x1="362.13" y1="339.60" x2="362.13" y2="341.00" stroke="#1e1e1e" stroke-width="0.9"/>
<line x1="364.25" y1="339.60" x2="364.25" y2="341.00" stroke="#1e1e1e" stroke-width="0.9"/>
<line x1="366.05" y1="339.60" x2="366.05" y2="341.00" stroke="#1e1e1e" stroke-width="0.9"/>
<line x1="367.60" y1="339.60" x2="367.60" y2="341.00" stroke="#1e1e1e" stroke-width="0.9"/>
<line x1="368.97" y1="339.60" x2="368.97" y2="341.00" stroke="#1e1e1e" stroke-width="0.9"/>
<line x1="378.27" y1="339.60" x2="378.27" y2="341.00" stroke="#1e1e1e" stroke-width="0.9"/>
<line x1="382.99" y1="339.60" x2="382.99" y2="341.00" stroke="#1e1e1e" stroke-width="0.9"/>
<line x1="386.34" y1="339.60" x2="386.34" y2="341.00" stroke="#1e1e1e" stroke-width="0.9"/>
<line x1="388.93" y1="339.60" x2="388.93" y2="341.00" stroke="#1e1e1e" stroke-width="0.9"/>
<line x1="391.05" y1="339.60" x2="391.05" y2="341.00" stroke="#1e1e1e" stroke-width="0.9"/>
<line x1="392.85" y1="339.60" x2="392.85" y2="341.00" stroke="#1e1e1e" stroke-width="0.9"/>
<line x1="394.40" y1="339.60" x2="394.40" y2="341.00" stroke="#1e1e1e" stroke-width="0.9"/>
<line x1="395.77" y1="339.60" x2="395.77" y2="341.00" stroke="#1e1e1e" stroke-width="0.9"/>
<line x1="405.07" y1="339.60" x2="405.07" y2="341.00" stroke="#1e1e1e" stroke-width="0.9"/>
<line x1="409.79" y1="339.60" x2="409.79" y2="341.00" stroke="#1e1e1e" stroke-width="0.9"/>
<line x1="413.14" y1="339.60" x2="413.14" y2="341.00" stroke="#1e1e1e" stroke-width="0.9"/>
<line x1="415.73" y1="339.60" x2="415.73" y2="341.00" stroke="#1e1e1e" stroke-width="0.9"/>
<line x1="417.85" y1="339.60" x2="417.85" y2="341.00" stroke="#1e1e1e" stroke-width="0.9"/>
<line x1="419.65" y1="339.60" x2="419.65" y2="341.00" stroke="#1e1e1e" stroke-width="0.9"/>
<line x1="421.20" y1="339.60" x2="421.20" y2="341.00" stroke="#1e1e1e" stroke-width="0.9"/>
<line x1="422.57" y1="339.60" x2="422.57" y2="341.00" stroke="#1e1e1e" stroke-width="0.9"/>
<line x1="431.87" y1="339.60" x2="431.87" y2="341.00" stroke="#1e1e1e" stroke-width="0.9"/>
<line x1="289.80" y1="339.60" x2="289.80" y2="342.00" stroke="#1e1e1e" stroke-width="1.1"/>
<text stroke="#1e1e1e" stroke-width="0.3" x="290.30" y="350.20" font-size="7.2" font-weight="bold" fill="#1e1e1e" text-anchor="middle">10<tspan font-size="4.8" dy="-2.38" dx="0.3">-9</tspan></text>
<line x1="316.60" y1="339.60" x2="316.60" y2="342.00" stroke="#1e1e1e" stroke-width="1.1"/>
<text stroke="#1e1e1e" stroke-width="0.3" x="317.10" y="350.20" font-size="7.2" font-weight="bold" fill="#1e1e1e" text-anchor="middle">10<tspan font-size="4.8" dy="-2.38" dx="0.3">-8</tspan></text>
<line x1="343.40" y1="339.60" x2="343.40" y2="342.00" stroke="#1e1e1e" stroke-width="1.1"/>
<text stroke="#1e1e1e" stroke-width="0.3" x="343.90" y="350.20" font-size="7.2" font-weight="bold" fill="#1e1e1e" text-anchor="middle">10<tspan font-size="4.8" dy="-2.38" dx="0.3">-7</tspan></text>
<line x1="370.20" y1="339.60" x2="370.20" y2="342.00" stroke="#1e1e1e" stroke-width="1.1"/>
<text stroke="#1e1e1e" stroke-width="0.3" x="370.70" y="350.20" font-size="7.2" font-weight="bold" fill="#1e1e1e" text-anchor="middle">10<tspan font-size="4.8" dy="-2.38" dx="0.3">-6</tspan></text>
<line x1="397.00" y1="339.60" x2="397.00" y2="342.00" stroke="#1e1e1e" stroke-width="1.1"/>
<text stroke="#1e1e1e" stroke-width="0.3" x="397.50" y="350.20" font-size="7.2" font-weight="bold" fill="#1e1e1e" text-anchor="middle">10<tspan font-size="4.8" dy="-2.38" dx="0.3">-5</tspan></text>
<line x1="423.80" y1="339.60" x2="423.80" y2="342.00" stroke="#1e1e1e" stroke-width="1.1"/>
<text stroke="#1e1e1e" stroke-width="0.3" x="424.30" y="350.20" font-size="7.2" font-weight="bold" fill="#1e1e1e" text-anchor="middle">10<tspan font-size="4.8" dy="-2.38" dx="0.3">-4</tspan></text>
<text stroke="#1e1e1e" stroke-width="0.3" x="363.40" y="361.00" font-size="7.5" font-weight="bold" fill="#1e1e1e" text-anchor="middle" textLength="29.2" lengthAdjust="spacingAndGlyphs">FICZ (M)</text>
<text stroke="#1e1e1e" stroke-width="0.3" x="270.80" y="312.50" font-size="9.8" font-weight="bold" fill="#1e1e1e" transform="rotate(-90 270.80 312.50)" textLength="10.2" lengthAdjust="spacingAndGlyphs">ΔF</text>
<text stroke="#1e1e1e" stroke-width="0.3" x="271.70" y="301.50" font-size="8.7" font-weight="bold" fill="#1e1e1e" transform="rotate(-90 271.70 301.50)" textLength="14.6" lengthAdjust="spacingAndGlyphs">norm</text>
<text stroke="#1e1e1e" stroke-width="0.3" x="269.70" y="283.10" font-size="7.8" font-weight="bold" fill="#1e1e1e" transform="rotate(-90 269.70 283.10)" textLength="12.4" lengthAdjust="spacingAndGlyphs">(‰)</text>
<text x="305.80" y="257.60" font-size="8.8" fill="#222" stroke="#222" stroke-width="0.08" textLength="57" lengthAdjust="spacingAndGlyphs">K<tspan font-size="4.40" dy="1.76">d</tspan><tspan dy="-1.76"> = 79 ± 36 nM</tspan></text>
<circle cx="299.50" cy="320.00" r="1.00" fill="#a6a6a6" stroke="none" stroke-width="1"/>
<circle cx="307.57" cy="326.50" r="1.00" fill="#a6a6a6" stroke="none" stroke-width="1"/>
<line x1="315.64" y1="317.00" x2="315.64" y2="322.00" stroke="#a6a6a6" stroke-width="1.0"/>
<line x1="314.54" y1="317.00" x2="316.74" y2="317.00" stroke="#a6a6a6" stroke-width="1.0"/>
<line x1="314.54" y1="322.00" x2="316.74" y2="322.00" stroke="#a6a6a6" stroke-width="1.0"/>
<circle cx="315.64" cy="320.00" r="1.00" fill="#a6a6a6" stroke="none" stroke-width="1"/>
<line x1="323.71" y1="316.50" x2="323.71" y2="322.50" stroke="#a6a6a6" stroke-width="1.0"/>
<line x1="322.61" y1="316.50" x2="324.81" y2="316.50" stroke="#a6a6a6" stroke-width="1.0"/>
<line x1="322.61" y1="322.50" x2="324.81" y2="322.50" stroke="#a6a6a6" stroke-width="1.0"/>
<circle cx="323.71" cy="319.50" r="1.00" fill="#a6a6a6" stroke="none" stroke-width="1"/>
<line x1="331.78" y1="318.00" x2="331.78" y2="334.00" stroke="#a6a6a6" stroke-width="1.0"/>
<line x1="330.68" y1="318.00" x2="332.88" y2="318.00" stroke="#a6a6a6" stroke-width="1.0"/>
<line x1="330.68" y1="334.00" x2="332.88" y2="334.00" stroke="#a6a6a6" stroke-width="1.0"/>
<circle cx="331.78" cy="322.00" r="1.00" fill="#a6a6a6" stroke="none" stroke-width="1"/>
<line x1="339.85" y1="317.00" x2="339.85" y2="323.00" stroke="#a6a6a6" stroke-width="1.0"/>
<line x1="338.75" y1="317.00" x2="340.95" y2="317.00" stroke="#a6a6a6" stroke-width="1.0"/>
<line x1="338.75" y1="323.00" x2="340.95" y2="323.00" stroke="#a6a6a6" stroke-width="1.0"/>
<circle cx="339.85" cy="320.00" r="1.00" fill="#a6a6a6" stroke="none" stroke-width="1"/>
<line x1="347.92" y1="315.00" x2="347.92" y2="334.00" stroke="#a6a6a6" stroke-width="1.0"/>
<line x1="346.82" y1="315.00" x2="349.02" y2="315.00" stroke="#a6a6a6" stroke-width="1.0"/>
<line x1="346.82" y1="334.00" x2="349.02" y2="334.00" stroke="#a6a6a6" stroke-width="1.0"/>
<circle cx="347.92" cy="320.00" r="1.00" fill="#a6a6a6" stroke="none" stroke-width="1"/>
<line x1="355.99" y1="313.00" x2="355.99" y2="319.00" stroke="#a6a6a6" stroke-width="1.0"/>
<line x1="354.89" y1="313.00" x2="357.09" y2="313.00" stroke="#a6a6a6" stroke-width="1.0"/>
<line x1="354.89" y1="319.00" x2="357.09" y2="319.00" stroke="#a6a6a6" stroke-width="1.0"/>
<circle cx="355.99" cy="316.00" r="1.00" fill="#a6a6a6" stroke="none" stroke-width="1"/>
<line x1="364.06" y1="316.20" x2="364.06" y2="321.90" stroke="#a6a6a6" stroke-width="1.0"/>
<line x1="362.96" y1="316.20" x2="365.16" y2="316.20" stroke="#a6a6a6" stroke-width="1.0"/>
<line x1="362.96" y1="321.90" x2="365.16" y2="321.90" stroke="#a6a6a6" stroke-width="1.0"/>
<circle cx="364.06" cy="319.00" r="1.00" fill="#a6a6a6" stroke="none" stroke-width="1"/>
<circle cx="372.13" cy="315.20" r="1.00" fill="#a6a6a6" stroke="none" stroke-width="1"/>
<line x1="380.20" y1="316.20" x2="380.20" y2="324.80" stroke="#a6a6a6" stroke-width="1.0"/>
<line x1="379.10" y1="316.20" x2="381.30" y2="316.20" stroke="#a6a6a6" stroke-width="1.0"/>
<line x1="379.10" y1="324.80" x2="381.30" y2="324.80" stroke="#a6a6a6" stroke-width="1.0"/>
<circle cx="380.20" cy="320.50" r="1.00" fill="#a6a6a6" stroke="none" stroke-width="1"/>
<line x1="388.27" y1="321.00" x2="388.27" y2="325.70" stroke="#a6a6a6" stroke-width="1.0"/>
<line x1="387.17" y1="321.00" x2="389.37" y2="321.00" stroke="#a6a6a6" stroke-width="1.0"/>
<line x1="387.17" y1="325.70" x2="389.37" y2="325.70" stroke="#a6a6a6" stroke-width="1.0"/>
<circle cx="388.27" cy="323.40" r="1.00" fill="#a6a6a6" stroke="none" stroke-width="1"/>
<line x1="396.34" y1="322.90" x2="396.34" y2="327.60" stroke="#a6a6a6" stroke-width="1.0"/>
<line x1="395.24" y1="322.90" x2="397.44" y2="322.90" stroke="#a6a6a6" stroke-width="1.0"/>
<line x1="395.24" y1="327.60" x2="397.44" y2="327.60" stroke="#a6a6a6" stroke-width="1.0"/>
<circle cx="396.34" cy="325.00" r="1.00" fill="#a6a6a6" stroke="none" stroke-width="1"/>
<line x1="404.41" y1="307.20" x2="404.41" y2="313.30" stroke="#a6a6a6" stroke-width="1.0"/>
<line x1="403.31" y1="307.20" x2="405.51" y2="307.20" stroke="#a6a6a6" stroke-width="1.0"/>
<line x1="403.31" y1="313.30" x2="405.51" y2="313.30" stroke="#a6a6a6" stroke-width="1.0"/>
<circle cx="404.41" cy="310.20" r="1.00" fill="#a6a6a6" stroke="none" stroke-width="1"/>
<line x1="412.48" y1="313.30" x2="412.48" y2="323.80" stroke="#a6a6a6" stroke-width="1.0"/>
<line x1="411.38" y1="313.30" x2="413.58" y2="313.30" stroke="#a6a6a6" stroke-width="1.0"/>
<line x1="411.38" y1="323.80" x2="413.58" y2="323.80" stroke="#a6a6a6" stroke-width="1.0"/>
<circle cx="412.48" cy="318.50" r="1.00" fill="#a6a6a6" stroke="none" stroke-width="1"/>
<circle cx="420.55" cy="320.00" r="1.00" fill="#a6a6a6" stroke="none" stroke-width="1"/>
<polyline points="299.50,320.10 380.00,320.10 383.33,320.04 386.66,319.84 389.99,319.52 393.32,319.06 396.65,318.48 399.98,317.76 403.31,316.92 406.64,315.94 409.97,314.84 413.30,313.60" fill="none" stroke="#a6a6a6" stroke-width="1.2" stroke-linejoin="round" stroke-linecap="round"/>
<line x1="291.50" y1="320.30" x2="433.00" y2="320.30" stroke="#111" stroke-width="1.2" stroke-dasharray="1.2 1.2"/>
<polyline points="299.50,319.09 301.02,318.96 302.54,318.80 304.06,318.63 305.57,318.43 307.09,318.20 308.61,317.95 310.13,317.67 311.65,317.35 313.17,317.00 314.69,316.60 316.21,316.15 317.73,315.65 319.24,315.10 320.76,314.50 322.28,313.82 323.80,313.09 325.32,312.28 326.84,311.40 328.36,310.45 329.88,309.42 331.39,308.33 332.91,307.16 334.43,305.93 335.95,304.63 337.47,303.29 338.99,301.90 340.51,300.47 342.02,299.02 343.54,297.56 345.06,296.10 346.58,294.66 348.10,293.24 349.62,291.85 351.14,290.52 352.66,289.23 354.18,288.01 355.69,286.86 357.21,285.78 358.73,284.77 360.25,283.83 361.77,282.96 363.29,282.17 364.81,281.44 366.32,280.78 367.84,280.19 369.36,279.65 370.88,279.16 372.40,278.72 373.92,278.33 375.44,277.99 376.96,277.67 378.48,277.40 379.99,277.15 381.51,276.93 383.03,276.74 384.55,276.57 386.07,276.42 387.59,276.28 389.11,276.17 390.62,276.06 392.14,275.97 393.66,275.89 395.18,275.82 396.70,275.76 398.22,275.70 399.74,275.65 401.26,275.61 402.77,275.57 404.29,275.54 405.81,275.51 407.33,275.48 408.85,275.46 410.37,275.44 411.89,275.42 413.41,275.41 414.93,275.40 416.44,275.38 417.96,275.37 419.48,275.36 421.00,275.36" fill="none" stroke="#1f7337" stroke-width="1.2" stroke-linejoin="round" stroke-linecap="round"/>
<circle cx="307.57" cy="326.50" r="1.10" fill="#5f9a8a" stroke="none" stroke-width="1"/>
<circle cx="299.50" cy="320.10" r="1.20" fill="#1f7337" stroke="none" stroke-width="1"/>
<line x1="315.64" y1="316.50" x2="315.64" y2="320.80" stroke="#1f7337" stroke-width="1.2"/>
<line x1="314.34" y1="316.50" x2="316.94" y2="316.50" stroke="#1f7337" stroke-width="1.2"/>
<line x1="314.34" y1="320.80" x2="316.94" y2="320.80" stroke="#1f7337" stroke-width="1.2"/>
<circle cx="315.64" cy="318.30" r="1.20" fill="#1f7337" stroke="none" stroke-width="1"/>
<line x1="323.71" y1="318.50" x2="323.71" y2="320.50" stroke="#1f7337" stroke-width="1.2"/>
<line x1="322.41" y1="318.50" x2="325.01" y2="318.50" stroke="#1f7337" stroke-width="1.2"/>
<line x1="322.41" y1="320.50" x2="325.01" y2="320.50" stroke="#1f7337" stroke-width="1.2"/>
<circle cx="323.71" cy="319.50" r="1.20" fill="#1f7337" stroke="none" stroke-width="1"/>
<line x1="331.78" y1="302.60" x2="331.78" y2="311.70" stroke="#1f7337" stroke-width="1.2"/>
<line x1="330.48" y1="302.60" x2="333.08" y2="302.60" stroke="#1f7337" stroke-width="1.2"/>
<line x1="330.48" y1="311.70" x2="333.08" y2="311.70" stroke="#1f7337" stroke-width="1.2"/>
<circle cx="331.78" cy="307.40" r="1.20" fill="#1f7337" stroke="none" stroke-width="1"/>
<line x1="339.85" y1="296.00" x2="339.85" y2="306.30" stroke="#1f7337" stroke-width="1.2"/>
<line x1="338.55" y1="296.00" x2="341.15" y2="296.00" stroke="#1f7337" stroke-width="1.2"/>
<line x1="338.55" y1="306.30" x2="341.15" y2="306.30" stroke="#1f7337" stroke-width="1.2"/>
<circle cx="339.85" cy="300.80" r="1.20" fill="#1f7337" stroke="none" stroke-width="1"/>
<line x1="347.92" y1="297.70" x2="347.92" y2="309.50" stroke="#1f7337" stroke-width="1.2"/>
<line x1="346.62" y1="297.70" x2="349.22" y2="297.70" stroke="#1f7337" stroke-width="1.2"/>
<line x1="346.62" y1="309.50" x2="349.22" y2="309.50" stroke="#1f7337" stroke-width="1.2"/>
<circle cx="347.92" cy="303.70" r="1.20" fill="#1f7337" stroke="none" stroke-width="1"/>
<line x1="355.99" y1="273.50" x2="355.99" y2="286.30" stroke="#1f7337" stroke-width="1.2"/>
<line x1="354.69" y1="273.50" x2="357.29" y2="273.50" stroke="#1f7337" stroke-width="1.2"/>
<line x1="354.69" y1="286.30" x2="357.29" y2="286.30" stroke="#1f7337" stroke-width="1.2"/>
<circle cx="355.99" cy="279.50" r="1.20" fill="#1f7337" stroke="none" stroke-width="1"/>
<line x1="364.06" y1="278.90" x2="364.06" y2="287.50" stroke="#1f7337" stroke-width="1.2"/>
<line x1="362.76" y1="278.90" x2="365.36" y2="278.90" stroke="#1f7337" stroke-width="1.2"/>
<line x1="362.76" y1="287.50" x2="365.36" y2="287.50" stroke="#1f7337" stroke-width="1.2"/>
<circle cx="364.06" cy="282.40" r="1.20" fill="#1f7337" stroke="none" stroke-width="1"/>
<line x1="372.13" y1="269.40" x2="372.13" y2="283.70" stroke="#1f7337" stroke-width="1.2"/>
<line x1="370.83" y1="269.40" x2="373.43" y2="269.40" stroke="#1f7337" stroke-width="1.2"/>
<line x1="370.83" y1="283.70" x2="373.43" y2="283.70" stroke="#1f7337" stroke-width="1.2"/>
<circle cx="372.13" cy="276.60" r="1.20" fill="#1f7337" stroke="none" stroke-width="1"/>
<line x1="380.20" y1="273.20" x2="380.20" y2="284.30" stroke="#1f7337" stroke-width="1.2"/>
<line x1="378.90" y1="273.20" x2="381.50" y2="273.20" stroke="#1f7337" stroke-width="1.2"/>
<line x1="378.90" y1="284.30" x2="381.50" y2="284.30" stroke="#1f7337" stroke-width="1.2"/>
<circle cx="380.20" cy="278.50" r="1.20" fill="#1f7337" stroke="none" stroke-width="1"/>
<line x1="388.27" y1="276.60" x2="388.27" y2="285.60" stroke="#1f7337" stroke-width="1.2"/>
<line x1="386.97" y1="276.60" x2="389.57" y2="276.60" stroke="#1f7337" stroke-width="1.2"/>
<line x1="386.97" y1="285.60" x2="389.57" y2="285.60" stroke="#1f7337" stroke-width="1.2"/>
<circle cx="388.27" cy="280.80" r="1.20" fill="#1f7337" stroke="none" stroke-width="1"/>
<line x1="396.34" y1="276.60" x2="396.34" y2="296.50" stroke="#1f7337" stroke-width="1.2"/>
<line x1="395.04" y1="276.60" x2="397.64" y2="276.60" stroke="#1f7337" stroke-width="1.2"/>
<line x1="395.04" y1="296.50" x2="397.64" y2="296.50" stroke="#1f7337" stroke-width="1.2"/>
<circle cx="396.34" cy="286.20" r="1.20" fill="#1f7337" stroke="none" stroke-width="1"/>
<line x1="404.41" y1="278.00" x2="404.41" y2="282.70" stroke="#1f7337" stroke-width="1.2"/>
<line x1="403.11" y1="278.00" x2="405.71" y2="278.00" stroke="#1f7337" stroke-width="1.2"/>
<line x1="403.11" y1="282.70" x2="405.71" y2="282.70" stroke="#1f7337" stroke-width="1.2"/>
<circle cx="404.41" cy="280.30" r="1.20" fill="#1f7337" stroke="none" stroke-width="1"/>
<line x1="412.48" y1="265.20" x2="412.48" y2="285.00" stroke="#1f7337" stroke-width="1.2"/>
<line x1="411.18" y1="265.20" x2="413.78" y2="265.20" stroke="#1f7337" stroke-width="1.2"/>
<line x1="411.18" y1="285.00" x2="413.78" y2="285.00" stroke="#1f7337" stroke-width="1.2"/>
<circle cx="412.48" cy="276.00" r="1.20" fill="#1f7337" stroke="none" stroke-width="1"/>
<line x1="420.55" y1="256.00" x2="420.55" y2="273.20" stroke="#1f7337" stroke-width="1.2"/>
<line x1="419.25" y1="256.00" x2="421.85" y2="256.00" stroke="#1f7337" stroke-width="1.2"/>
<line x1="419.25" y1="273.20" x2="421.85" y2="273.20" stroke="#1f7337" stroke-width="1.2"/>
<circle cx="420.55" cy="264.60" r="1.20" fill="#1f7337" stroke="none" stroke-width="1"/>
<line x1="434.40" y1="247.00" x2="446.60" y2="247.00" stroke="#1f7337" stroke-width="1.7"/>
<circle cx="440.50" cy="247.00" r="1.20" fill="#1f7337" stroke="none" stroke-width="1"/>
<text stroke="#1f7337" stroke-width="0.3" x="451.40" y="249.43" font-size="6.8" font-weight="bold" fill="#1f7337" textLength="35" lengthAdjust="spacingAndGlyphs">AhR-mArnt</text>
<line x1="434.40" y1="256.80" x2="446.60" y2="256.80" stroke="#9c9c9c" stroke-width="1.2"/>
<circle cx="440.50" cy="256.80" r="1.00" fill="#9c9c9c" stroke="none" stroke-width="1"/>
<text x="451.40" y="259.43" font-size="7.1" fill="#9c9c9c" stroke="#9c9c9c" stroke-width="0.05" textLength="19.2" lengthAdjust="spacingAndGlyphs">mArnt</text>
<line x1="34.40" y1="426.70" x2="34.40" y2="524.50" stroke="#1e1e1e" stroke-width="1.4"/>
<line x1="31.60" y1="427.00" x2="34.40" y2="427.00" stroke="#1e1e1e" stroke-width="1.2"/>
<text stroke="#1e1e1e" stroke-width="0.3" x="31.00" y="429.65" font-size="7.4" font-weight="bold" fill="#1e1e1e" text-anchor="end">40</text>
<line x1="31.60" y1="446.40" x2="34.40" y2="446.40" stroke="#1e1e1e" stroke-width="1.2"/>
<text stroke="#1e1e1e" stroke-width="0.3" x="31.00" y="449.05" font-size="7.4" font-weight="bold" fill="#1e1e1e" text-anchor="end">30</text>
<line x1="31.60" y1="465.90" x2="34.40" y2="465.90" stroke="#1e1e1e" stroke-width="1.2"/>
<text stroke="#1e1e1e" stroke-width="0.3" x="31.00" y="468.55" font-size="7.4" font-weight="bold" fill="#1e1e1e" text-anchor="end">20</text>
<line x1="31.60" y1="485.30" x2="34.40" y2="485.30" stroke="#1e1e1e" stroke-width="1.2"/>
<text stroke="#1e1e1e" stroke-width="0.3" x="31.00" y="487.95" font-size="7.4" font-weight="bold" fill="#1e1e1e" text-anchor="end">10</text>
<line x1="31.60" y1="504.70" x2="34.40" y2="504.70" stroke="#1e1e1e" stroke-width="1.2"/>
<text stroke="#1e1e1e" stroke-width="0.3" x="31.00" y="507.35" font-size="7.4" font-weight="bold" fill="#1e1e1e" text-anchor="end">0</text>
<line x1="31.60" y1="524.00" x2="34.40" y2="524.00" stroke="#1e1e1e" stroke-width="1.2"/>
<text stroke="#1e1e1e" stroke-width="0.3" x="31.00" y="526.65" font-size="7.4" font-weight="bold" fill="#1e1e1e" text-anchor="end">-10</text>
<line x1="33.90" y1="524.50" x2="180.80" y2="524.50" stroke="#1e1e1e" stroke-width="1.4"/>
<line x1="42.38" y1="524.50" x2="42.38" y2="525.90" stroke="#1e1e1e" stroke-width="0.9"/>
<line x1="46.87" y1="524.50" x2="46.87" y2="525.90" stroke="#1e1e1e" stroke-width="0.9"/>
<line x1="50.05" y1="524.50" x2="50.05" y2="525.90" stroke="#1e1e1e" stroke-width="0.9"/>
<line x1="52.52" y1="524.50" x2="52.52" y2="525.90" stroke="#1e1e1e" stroke-width="0.9"/>
<line x1="54.54" y1="524.50" x2="54.54" y2="525.90" stroke="#1e1e1e" stroke-width="0.9"/>
<line x1="56.25" y1="524.50" x2="56.25" y2="525.90" stroke="#1e1e1e" stroke-width="0.9"/>
<line x1="57.73" y1="524.50" x2="57.73" y2="525.90" stroke="#1e1e1e" stroke-width="0.9"/>
<line x1="59.03" y1="524.50" x2="59.03" y2="525.90" stroke="#1e1e1e" stroke-width="0.9"/>
<line x1="67.88" y1="524.50" x2="67.88" y2="525.90" stroke="#1e1e1e" stroke-width="0.9"/>
<line x1="72.37" y1="524.50" x2="72.37" y2="525.90" stroke="#1e1e1e" stroke-width="0.9"/>
<line x1="75.55" y1="524.50" x2="75.55" y2="525.90" stroke="#1e1e1e" stroke-width="0.9"/>
<line x1="78.02" y1="524.50" x2="78.02" y2="525.90" stroke="#1e1e1e" stroke-width="0.9"/>
<line x1="80.04" y1="524.50" x2="80.04" y2="525.90" stroke="#1e1e1e" stroke-width="0.9"/>
<line x1="81.75" y1="524.50" x2="81.75" y2="525.90" stroke="#1e1e1e" stroke-width="0.9"/>
<line x1="83.23" y1="524.50" x2="83.23" y2="525.90" stroke="#1e1e1e" stroke-width="0.9"/>
<line x1="84.53" y1="524.50" x2="84.53" y2="525.90" stroke="#1e1e1e" stroke-width="0.9"/>
<line x1="93.38" y1="524.50" x2="93.38" y2="525.90" stroke="#1e1e1e" stroke-width="0.9"/>
<line x1="97.87" y1="524.50" x2="97.87" y2="525.90" stroke="#1e1e1e" stroke-width="0.9"/>
<line x1="101.05" y1="524.50" x2="101.05" y2="525.90" stroke="#1e1e1e" stroke-width="0.9"/>
<line x1="103.52" y1="524.50" x2="103.52" y2="525.90" stroke="#1e1e1e" stroke-width="0.9"/>
<line x1="105.54" y1="524.50" x2="105.54" y2="525.90" stroke="#1e1e1e" stroke-width="0.9"/>
<line x1="107.25" y1="524.50" x2="107.25" y2="525.90" stroke="#1e1e1e" stroke-width="0.9"/>
<line x1="108.73" y1="524.50" x2="108.73" y2="525.90" stroke="#1e1e1e" stroke-width="0.9"/>
<line x1="110.03" y1="524.50" x2="110.03" y2="525.90" stroke="#1e1e1e" stroke-width="0.9"/>
<line x1="118.88" y1="524.50" x2="118.88" y2="525.90" stroke="#1e1e1e" stroke-width="0.9"/>
<line x1="123.37" y1="524.50" x2="123.37" y2="525.90" stroke="#1e1e1e" stroke-width="0.9"/>
<line x1="126.55" y1="524.50" x2="126.55" y2="525.90" stroke="#1e1e1e" stroke-width="0.9"/>
<line x1="129.02" y1="524.50" x2="129.02" y2="525.90" stroke="#1e1e1e" stroke-width="0.9"/>
<line x1="131.04" y1="524.50" x2="131.04" y2="525.90" stroke="#1e1e1e" stroke-width="0.9"/>
<line x1="132.75" y1="524.50" x2="132.75" y2="525.90" stroke="#1e1e1e" stroke-width="0.9"/>
<line x1="134.23" y1="524.50" x2="134.23" y2="525.90" stroke="#1e1e1e" stroke-width="0.9"/>
<line x1="135.53" y1="524.50" x2="135.53" y2="525.90" stroke="#1e1e1e" stroke-width="0.9"/>
<line x1="144.38" y1="524.50" x2="144.38" y2="525.90" stroke="#1e1e1e" stroke-width="0.9"/>
<line x1="148.87" y1="524.50" x2="148.87" y2="525.90" stroke="#1e1e1e" stroke-width="0.9"/>
<line x1="152.05" y1="524.50" x2="152.05" y2="525.90" stroke="#1e1e1e" stroke-width="0.9"/>
<line x1="154.52" y1="524.50" x2="154.52" y2="525.90" stroke="#1e1e1e" stroke-width="0.9"/>
<line x1="156.54" y1="524.50" x2="156.54" y2="525.90" stroke="#1e1e1e" stroke-width="0.9"/>
<line x1="158.25" y1="524.50" x2="158.25" y2="525.90" stroke="#1e1e1e" stroke-width="0.9"/>
<line x1="159.73" y1="524.50" x2="159.73" y2="525.90" stroke="#1e1e1e" stroke-width="0.9"/>
<line x1="161.03" y1="524.50" x2="161.03" y2="525.90" stroke="#1e1e1e" stroke-width="0.9"/>
<line x1="169.88" y1="524.50" x2="169.88" y2="525.90" stroke="#1e1e1e" stroke-width="0.9"/>
<line x1="174.37" y1="524.50" x2="174.37" y2="525.90" stroke="#1e1e1e" stroke-width="0.9"/>
<line x1="177.55" y1="524.50" x2="177.55" y2="525.90" stroke="#1e1e1e" stroke-width="0.9"/>
<line x1="180.02" y1="524.50" x2="180.02" y2="525.90" stroke="#1e1e1e" stroke-width="0.9"/>
<line x1="34.70" y1="524.50" x2="34.70" y2="526.90" stroke="#1e1e1e" stroke-width="1.1"/>
<text stroke="#1e1e1e" stroke-width="0.3" x="35.20" y="535.00" font-size="7.2" font-weight="bold" fill="#1e1e1e" text-anchor="middle">10<tspan font-size="4.8" dy="-2.38" dx="0.3">-9</tspan></text>
<line x1="60.20" y1="524.50" x2="60.20" y2="526.90" stroke="#1e1e1e" stroke-width="1.1"/>
<text stroke="#1e1e1e" stroke-width="0.3" x="60.70" y="535.00" font-size="7.2" font-weight="bold" fill="#1e1e1e" text-anchor="middle">10<tspan font-size="4.8" dy="-2.38" dx="0.3">-8</tspan></text>
<line x1="85.70" y1="524.50" x2="85.70" y2="526.90" stroke="#1e1e1e" stroke-width="1.1"/>
<text stroke="#1e1e1e" stroke-width="0.3" x="86.20" y="535.00" font-size="7.2" font-weight="bold" fill="#1e1e1e" text-anchor="middle">10<tspan font-size="4.8" dy="-2.38" dx="0.3">-7</tspan></text>
<line x1="111.20" y1="524.50" x2="111.20" y2="526.90" stroke="#1e1e1e" stroke-width="1.1"/>
<text stroke="#1e1e1e" stroke-width="0.3" x="111.70" y="535.00" font-size="7.2" font-weight="bold" fill="#1e1e1e" text-anchor="middle">10<tspan font-size="4.8" dy="-2.38" dx="0.3">-6</tspan></text>
<line x1="136.70" y1="524.50" x2="136.70" y2="526.90" stroke="#1e1e1e" stroke-width="1.1"/>
<text stroke="#1e1e1e" stroke-width="0.3" x="137.20" y="535.00" font-size="7.2" font-weight="bold" fill="#1e1e1e" text-anchor="middle">10<tspan font-size="4.8" dy="-2.38" dx="0.3">-5</tspan></text>
<line x1="162.20" y1="524.50" x2="162.20" y2="526.90" stroke="#1e1e1e" stroke-width="1.1"/>
<text stroke="#1e1e1e" stroke-width="0.3" x="162.70" y="535.00" font-size="7.2" font-weight="bold" fill="#1e1e1e" text-anchor="middle">10<tspan font-size="4.8" dy="-2.38" dx="0.3">-4</tspan></text>
<text stroke="#1e1e1e" stroke-width="0.3" x="107.80" y="545.10" font-size="7.5" font-weight="bold" fill="#1e1e1e" text-anchor="middle" textLength="29.2" lengthAdjust="spacingAndGlyphs">1-HP (M)</text>
<text stroke="#1e1e1e" stroke-width="0.3" x="15.80" y="496.30" font-size="9.8" font-weight="bold" fill="#1e1e1e" transform="rotate(-90 15.80 496.30)" textLength="10.2" lengthAdjust="spacingAndGlyphs">ΔF</text>
<text stroke="#1e1e1e" stroke-width="0.3" x="16.70" y="485.30" font-size="8.7" font-weight="bold" fill="#1e1e1e" transform="rotate(-90 16.70 485.30)" textLength="14.6" lengthAdjust="spacingAndGlyphs">norm</text>
<text stroke="#1e1e1e" stroke-width="0.3" x="14.70" y="466.90" font-size="7.8" font-weight="bold" fill="#1e1e1e" transform="rotate(-90 14.70 466.90)" textLength="12.4" lengthAdjust="spacingAndGlyphs">(‰)</text>
<text x="45.80" y="442.30" font-size="8.8" fill="#222" stroke="#222" stroke-width="0.08" textLength="66.4" lengthAdjust="spacingAndGlyphs">K<tspan font-size="4.40" dy="1.76">d</tspan><tspan dy="-1.76"> = 943 ± 176 nM</tspan></text>
<line x1="35.50" y1="504.80" x2="178.30" y2="504.80" stroke="#111" stroke-width="1.2" stroke-dasharray="1.2 1.2"/>
<line x1="46.50" y1="504.80" x2="162.40" y2="504.80" stroke="#a6a6a6" stroke-width="1.9"/>
<circle cx="47.00" cy="504.70" r="1.00" fill="#a6a6a6" stroke="none" stroke-width="1"/>
<circle cx="54.65" cy="504.70" r="1.00" fill="#a6a6a6" stroke="none" stroke-width="1"/>
<circle cx="62.30" cy="504.70" r="1.00" fill="#a6a6a6" stroke="none" stroke-width="1"/>
<circle cx="69.95" cy="504.70" r="1.00" fill="#a6a6a6" stroke="none" stroke-width="1"/>
<line x1="77.60" y1="482.60" x2="77.60" y2="508.00" stroke="#a6a6a6" stroke-width="1.0"/>
<line x1="76.50" y1="482.60" x2="78.70" y2="482.60" stroke="#a6a6a6" stroke-width="1.0"/>
<line x1="76.50" y1="508.00" x2="78.70" y2="508.00" stroke="#a6a6a6" stroke-width="1.0"/>
<circle cx="77.60" cy="492.00" r="1.00" fill="#a6a6a6" stroke="none" stroke-width="1"/>
<line x1="85.25" y1="500.60" x2="85.25" y2="506.00" stroke="#a6a6a6" stroke-width="1.0"/>
<line x1="84.15" y1="500.60" x2="86.35" y2="500.60" stroke="#a6a6a6" stroke-width="1.0"/>
<line x1="84.15" y1="506.00" x2="86.35" y2="506.00" stroke="#a6a6a6" stroke-width="1.0"/>
<circle cx="85.25" cy="503.50" r="1.00" fill="#a6a6a6" stroke="none" stroke-width="1"/>
<line x1="92.90" y1="502.00" x2="92.90" y2="507.40" stroke="#a6a6a6" stroke-width="1.0"/>
<line x1="91.80" y1="502.00" x2="94.00" y2="502.00" stroke="#a6a6a6" stroke-width="1.0"/>
<line x1="91.80" y1="507.40" x2="94.00" y2="507.40" stroke="#a6a6a6" stroke-width="1.0"/>
<circle cx="92.90" cy="504.70" r="1.00" fill="#a6a6a6" stroke="none" stroke-width="1"/>
<line x1="100.55" y1="502.00" x2="100.55" y2="507.00" stroke="#a6a6a6" stroke-width="1.0"/>
<line x1="99.45" y1="502.00" x2="101.65" y2="502.00" stroke="#a6a6a6" stroke-width="1.0"/>
<line x1="99.45" y1="507.00" x2="101.65" y2="507.00" stroke="#a6a6a6" stroke-width="1.0"/>
<circle cx="100.55" cy="504.70" r="1.00" fill="#a6a6a6" stroke="none" stroke-width="1"/>
<line x1="108.20" y1="500.60" x2="108.20" y2="509.40" stroke="#a6a6a6" stroke-width="1.0"/>
<line x1="107.10" y1="500.60" x2="109.30" y2="500.60" stroke="#a6a6a6" stroke-width="1.0"/>
<line x1="107.10" y1="509.40" x2="109.30" y2="509.40" stroke="#a6a6a6" stroke-width="1.0"/>
<circle cx="108.20" cy="505.00" r="1.00" fill="#a6a6a6" stroke="none" stroke-width="1"/>
<line x1="115.85" y1="500.60" x2="115.85" y2="509.40" stroke="#a6a6a6" stroke-width="1.0"/>
<line x1="114.75" y1="500.60" x2="116.95" y2="500.60" stroke="#a6a6a6" stroke-width="1.0"/>
<line x1="114.75" y1="509.40" x2="116.95" y2="509.40" stroke="#a6a6a6" stroke-width="1.0"/>
<circle cx="115.85" cy="505.00" r="1.00" fill="#a6a6a6" stroke="none" stroke-width="1"/>
<line x1="123.50" y1="502.00" x2="123.50" y2="507.40" stroke="#a6a6a6" stroke-width="1.0"/>
<line x1="122.40" y1="502.00" x2="124.60" y2="502.00" stroke="#a6a6a6" stroke-width="1.0"/>
<line x1="122.40" y1="507.40" x2="124.60" y2="507.40" stroke="#a6a6a6" stroke-width="1.0"/>
<circle cx="123.50" cy="504.70" r="1.00" fill="#a6a6a6" stroke="none" stroke-width="1"/>
<line x1="131.15" y1="500.00" x2="131.15" y2="511.40" stroke="#a6a6a6" stroke-width="1.0"/>
<line x1="130.05" y1="500.00" x2="132.25" y2="500.00" stroke="#a6a6a6" stroke-width="1.0"/>
<line x1="130.05" y1="511.40" x2="132.25" y2="511.40" stroke="#a6a6a6" stroke-width="1.0"/>
<circle cx="131.15" cy="505.70" r="1.00" fill="#a6a6a6" stroke="none" stroke-width="1"/>
<circle cx="138.80" cy="505.00" r="1.00" fill="#a6a6a6" stroke="none" stroke-width="1"/>
<circle cx="146.45" cy="500.60" r="1.00" fill="#a6a6a6" stroke="none" stroke-width="1"/>
<circle cx="154.10" cy="508.60" r="1.00" fill="#a6a6a6" stroke="none" stroke-width="1"/>
<line x1="161.75" y1="504.60" x2="161.75" y2="517.00" stroke="#a6a6a6" stroke-width="1.0"/>
<line x1="160.65" y1="504.60" x2="162.85" y2="504.60" stroke="#a6a6a6" stroke-width="1.0"/>
<line x1="160.65" y1="517.00" x2="162.85" y2="517.00" stroke="#a6a6a6" stroke-width="1.0"/>
<circle cx="161.75" cy="510.80" r="1.00" fill="#a6a6a6" stroke="none" stroke-width="1"/>
<polyline points="47.00,504.53 48.42,504.51 49.85,504.48 51.27,504.45 52.70,504.41 54.12,504.38 55.55,504.33 56.98,504.28 58.40,504.22 59.83,504.16 61.25,504.09 62.67,504.00 64.10,503.91 65.53,503.80 66.95,503.68 68.38,503.54 69.80,503.39 71.22,503.21 72.65,503.02 74.08,502.79 75.50,502.54 76.92,502.26 78.35,501.94 79.78,501.59 81.20,501.19 82.62,500.74 84.05,500.24 85.47,499.69 86.90,499.07 88.33,498.39 89.75,497.64 91.17,496.81 92.60,495.91 94.03,494.92 95.45,493.85 96.88,492.70 98.30,491.46 99.72,490.14 101.15,488.74 102.58,487.27 104.00,485.73 105.42,484.13 106.85,482.49 108.28,480.81 109.70,479.10 111.12,477.39 112.55,475.69 113.97,474.00 115.40,472.35 116.83,470.74 118.25,469.19 119.67,467.71 121.10,466.30 122.53,464.96 123.95,463.71 125.38,462.54 126.80,461.46 128.22,460.46 129.65,459.54 131.07,458.70 132.50,457.94 133.93,457.24 135.35,456.62 136.78,456.05 138.20,455.54 139.62,455.09 141.05,454.68 142.47,454.32 143.90,453.99 145.32,453.70 146.75,453.45 148.18,453.22 149.60,453.02 151.03,452.84 152.45,452.68 153.88,452.54 155.30,452.42 156.72,452.31 158.15,452.21 159.57,452.13 161.00,452.05" fill="none" stroke="#b3242c" stroke-width="1.3" stroke-linejoin="round" stroke-linecap="round"/>
<line x1="47.00" y1="494.60" x2="47.00" y2="510.00" stroke="#b3242c" stroke-width="1.2"/>
<line x1="45.70" y1="494.60" x2="48.30" y2="494.60" stroke="#b3242c" stroke-width="1.2"/>
<line x1="45.70" y1="510.00" x2="48.30" y2="510.00" stroke="#b3242c" stroke-width="1.2"/>
<circle cx="47.00" cy="504.00" r="1.20" fill="#b3242c" stroke="none" stroke-width="1"/>
<line x1="54.65" y1="500.60" x2="54.65" y2="510.60" stroke="#b3242c" stroke-width="1.2"/>
<line x1="53.35" y1="500.60" x2="55.95" y2="500.60" stroke="#b3242c" stroke-width="1.2"/>
<line x1="53.35" y1="510.60" x2="55.95" y2="510.60" stroke="#b3242c" stroke-width="1.2"/>
<circle cx="54.65" cy="505.00" r="1.20" fill="#b3242c" stroke="none" stroke-width="1"/>
<line x1="62.30" y1="488.60" x2="62.30" y2="504.00" stroke="#b3242c" stroke-width="1.2"/>
<line x1="61.00" y1="488.60" x2="63.60" y2="488.60" stroke="#b3242c" stroke-width="1.2"/>
<line x1="61.00" y1="504.00" x2="63.60" y2="504.00" stroke="#b3242c" stroke-width="1.2"/>
<circle cx="62.30" cy="496.00" r="1.20" fill="#b3242c" stroke="none" stroke-width="1"/>
<line x1="69.95" y1="505.00" x2="69.95" y2="510.60" stroke="#b3242c" stroke-width="1.2"/>
<line x1="68.65" y1="505.00" x2="71.25" y2="505.00" stroke="#b3242c" stroke-width="1.2"/>
<line x1="68.65" y1="510.60" x2="71.25" y2="510.60" stroke="#b3242c" stroke-width="1.2"/>
<circle cx="69.95" cy="507.40" r="1.20" fill="#b3242c" stroke="none" stroke-width="1"/>
<circle cx="77.60" cy="506.00" r="1.20" fill="#b3242c" stroke="none" stroke-width="1"/>
<line x1="85.25" y1="503.00" x2="85.25" y2="512.60" stroke="#b3242c" stroke-width="1.2"/>
<line x1="83.95" y1="503.00" x2="86.55" y2="503.00" stroke="#b3242c" stroke-width="1.2"/>
<line x1="83.95" y1="512.60" x2="86.55" y2="512.60" stroke="#b3242c" stroke-width="1.2"/>
<circle cx="85.25" cy="509.00" r="1.20" fill="#b3242c" stroke="none" stroke-width="1"/>
<circle cx="92.90" cy="496.60" r="1.20" fill="#b3242c" stroke="none" stroke-width="1"/>
<line x1="100.55" y1="480.60" x2="100.55" y2="492.60" stroke="#b3242c" stroke-width="1.2"/>
<line x1="99.25" y1="480.60" x2="101.85" y2="480.60" stroke="#b3242c" stroke-width="1.2"/>
<line x1="99.25" y1="492.60" x2="101.85" y2="492.60" stroke="#b3242c" stroke-width="1.2"/>
<circle cx="100.55" cy="487.00" r="1.20" fill="#b3242c" stroke="none" stroke-width="1"/>
<line x1="108.20" y1="473.40" x2="108.20" y2="489.40" stroke="#b3242c" stroke-width="1.2"/>
<line x1="106.90" y1="473.40" x2="109.50" y2="473.40" stroke="#b3242c" stroke-width="1.2"/>
<line x1="106.90" y1="489.40" x2="109.50" y2="489.40" stroke="#b3242c" stroke-width="1.2"/>
<circle cx="108.20" cy="480.00" r="1.20" fill="#b3242c" stroke="none" stroke-width="1"/>
<line x1="115.85" y1="461.40" x2="115.85" y2="476.00" stroke="#b3242c" stroke-width="1.2"/>
<line x1="114.55" y1="461.40" x2="117.15" y2="461.40" stroke="#b3242c" stroke-width="1.2"/>
<line x1="114.55" y1="476.00" x2="117.15" y2="476.00" stroke="#b3242c" stroke-width="1.2"/>
<circle cx="115.85" cy="469.00" r="1.20" fill="#b3242c" stroke="none" stroke-width="1"/>
<line x1="123.50" y1="456.00" x2="123.50" y2="474.60" stroke="#b3242c" stroke-width="1.2"/>
<line x1="122.20" y1="456.00" x2="124.80" y2="456.00" stroke="#b3242c" stroke-width="1.2"/>
<line x1="122.20" y1="474.60" x2="124.80" y2="474.60" stroke="#b3242c" stroke-width="1.2"/>
<circle cx="123.50" cy="463.00" r="1.20" fill="#b3242c" stroke="none" stroke-width="1"/>
<line x1="131.15" y1="452.00" x2="131.15" y2="470.00" stroke="#b3242c" stroke-width="1.2"/>
<line x1="129.85" y1="452.00" x2="132.45" y2="452.00" stroke="#b3242c" stroke-width="1.2"/>
<line x1="129.85" y1="470.00" x2="132.45" y2="470.00" stroke="#b3242c" stroke-width="1.2"/>
<circle cx="131.15" cy="458.00" r="1.20" fill="#b3242c" stroke="none" stroke-width="1"/>
<line x1="138.80" y1="448.00" x2="138.80" y2="468.00" stroke="#b3242c" stroke-width="1.2"/>
<line x1="137.50" y1="448.00" x2="140.10" y2="448.00" stroke="#b3242c" stroke-width="1.2"/>
<line x1="137.50" y1="468.00" x2="140.10" y2="468.00" stroke="#b3242c" stroke-width="1.2"/>
<circle cx="138.80" cy="455.00" r="1.20" fill="#b3242c" stroke="none" stroke-width="1"/>
<line x1="146.45" y1="446.60" x2="146.45" y2="458.00" stroke="#b3242c" stroke-width="1.2"/>
<line x1="145.15" y1="446.60" x2="147.75" y2="446.60" stroke="#b3242c" stroke-width="1.2"/>
<line x1="145.15" y1="458.00" x2="147.75" y2="458.00" stroke="#b3242c" stroke-width="1.2"/>
<circle cx="146.45" cy="452.00" r="1.20" fill="#b3242c" stroke="none" stroke-width="1"/>
<line x1="154.10" y1="452.00" x2="154.10" y2="456.00" stroke="#b3242c" stroke-width="1.2"/>
<line x1="152.80" y1="452.00" x2="155.40" y2="452.00" stroke="#b3242c" stroke-width="1.2"/>
<line x1="152.80" y1="456.00" x2="155.40" y2="456.00" stroke="#b3242c" stroke-width="1.2"/>
<circle cx="154.10" cy="454.00" r="1.20" fill="#b3242c" stroke="none" stroke-width="1"/>
<circle cx="161.75" cy="449.40" r="1.20" fill="#b3242c" stroke="none" stroke-width="1"/>
<line x1="173.10" y1="430.80" x2="185.20" y2="430.80" stroke="#b3242c" stroke-width="1.7"/>
<circle cx="179.15" cy="430.80" r="1.20" fill="#b3242c" stroke="none" stroke-width="1"/>
<text stroke="#b3242c" stroke-width="0.3" x="189.50" y="433.23" font-size="6.8" font-weight="bold" fill="#b3242c" textLength="35" lengthAdjust="spacingAndGlyphs">AhR-mArnt</text>
<line x1="173.10" y1="440.50" x2="185.20" y2="440.50" stroke="#9c9c9c" stroke-width="1.2"/>
<circle cx="179.15" cy="440.50" r="1.00" fill="#9c9c9c" stroke="none" stroke-width="1"/>
<text x="189.50" y="443.13" font-size="7.1" fill="#9c9c9c" stroke="#9c9c9c" stroke-width="0.05" textLength="19.2" lengthAdjust="spacingAndGlyphs">mArnt</text>
<line x1="289.70" y1="426.60" x2="289.70" y2="523.90" stroke="#1e1e1e" stroke-width="1.4"/>
<line x1="286.90" y1="426.90" x2="289.70" y2="426.90" stroke="#1e1e1e" stroke-width="1.2"/>
<text stroke="#1e1e1e" stroke-width="0.3" x="286.30" y="429.55" font-size="7.4" font-weight="bold" fill="#1e1e1e" text-anchor="end">60</text>
<line x1="286.90" y1="451.10" x2="289.70" y2="451.10" stroke="#1e1e1e" stroke-width="1.2"/>
<text stroke="#1e1e1e" stroke-width="0.3" x="286.30" y="453.75" font-size="7.4" font-weight="bold" fill="#1e1e1e" text-anchor="end">40</text>
<line x1="286.90" y1="475.30" x2="289.70" y2="475.30" stroke="#1e1e1e" stroke-width="1.2"/>
<text stroke="#1e1e1e" stroke-width="0.3" x="286.30" y="477.95" font-size="7.4" font-weight="bold" fill="#1e1e1e" text-anchor="end">20</text>
<line x1="286.90" y1="499.40" x2="289.70" y2="499.40" stroke="#1e1e1e" stroke-width="1.2"/>
<text stroke="#1e1e1e" stroke-width="0.3" x="286.30" y="502.05" font-size="7.4" font-weight="bold" fill="#1e1e1e" text-anchor="end">0</text>
<line x1="286.90" y1="523.40" x2="289.70" y2="523.40" stroke="#1e1e1e" stroke-width="1.2"/>
<text stroke="#1e1e1e" stroke-width="0.3" x="286.30" y="526.05" font-size="7.4" font-weight="bold" fill="#1e1e1e" text-anchor="end">-20</text>
<line x1="289.20" y1="524.00" x2="436.00" y2="524.00" stroke="#1e1e1e" stroke-width="1.4"/>
<line x1="292.21" y1="524.00" x2="292.21" y2="525.40" stroke="#1e1e1e" stroke-width="0.9"/>
<line x1="294.83" y1="524.00" x2="294.83" y2="525.40" stroke="#1e1e1e" stroke-width="0.9"/>
<line x1="297.06" y1="524.00" x2="297.06" y2="525.40" stroke="#1e1e1e" stroke-width="0.9"/>
<line x1="298.98" y1="524.00" x2="298.98" y2="525.40" stroke="#1e1e1e" stroke-width="0.9"/>
<line x1="300.68" y1="524.00" x2="300.68" y2="525.40" stroke="#1e1e1e" stroke-width="0.9"/>
<line x1="312.19" y1="524.00" x2="312.19" y2="525.40" stroke="#1e1e1e" stroke-width="0.9"/>
<line x1="318.04" y1="524.00" x2="318.04" y2="525.40" stroke="#1e1e1e" stroke-width="0.9"/>
<line x1="322.19" y1="524.00" x2="322.19" y2="525.40" stroke="#1e1e1e" stroke-width="0.9"/>
<line x1="325.41" y1="524.00" x2="325.41" y2="525.40" stroke="#1e1e1e" stroke-width="0.9"/>
<line x1="328.03" y1="524.00" x2="328.03" y2="525.40" stroke="#1e1e1e" stroke-width="0.9"/>
<line x1="330.26" y1="524.00" x2="330.26" y2="525.40" stroke="#1e1e1e" stroke-width="0.9"/>
<line x1="332.18" y1="524.00" x2="332.18" y2="525.40" stroke="#1e1e1e" stroke-width="0.9"/>
<line x1="333.88" y1="524.00" x2="333.88" y2="525.40" stroke="#1e1e1e" stroke-width="0.9"/>
<line x1="345.39" y1="524.00" x2="345.39" y2="525.40" stroke="#1e1e1e" stroke-width="0.9"/>
<line x1="351.24" y1="524.00" x2="351.24" y2="525.40" stroke="#1e1e1e" stroke-width="0.9"/>
<line x1="355.39" y1="524.00" x2="355.39" y2="525.40" stroke="#1e1e1e" stroke-width="0.9"/>
<line x1="358.61" y1="524.00" x2="358.61" y2="525.40" stroke="#1e1e1e" stroke-width="0.9"/>
<line x1="361.23" y1="524.00" x2="361.23" y2="525.40" stroke="#1e1e1e" stroke-width="0.9"/>
<line x1="363.46" y1="524.00" x2="363.46" y2="525.40" stroke="#1e1e1e" stroke-width="0.9"/>
<line x1="365.38" y1="524.00" x2="365.38" y2="525.40" stroke="#1e1e1e" stroke-width="0.9"/>
<line x1="367.08" y1="524.00" x2="367.08" y2="525.40" stroke="#1e1e1e" stroke-width="0.9"/>
<line x1="378.59" y1="524.00" x2="378.59" y2="525.40" stroke="#1e1e1e" stroke-width="0.9"/>
<line x1="384.44" y1="524.00" x2="384.44" y2="525.40" stroke="#1e1e1e" stroke-width="0.9"/>
<line x1="388.59" y1="524.00" x2="388.59" y2="525.40" stroke="#1e1e1e" stroke-width="0.9"/>
<line x1="391.81" y1="524.00" x2="391.81" y2="525.40" stroke="#1e1e1e" stroke-width="0.9"/>
<line x1="394.43" y1="524.00" x2="394.43" y2="525.40" stroke="#1e1e1e" stroke-width="0.9"/>
<line x1="396.66" y1="524.00" x2="396.66" y2="525.40" stroke="#1e1e1e" stroke-width="0.9"/>
<line x1="398.58" y1="524.00" x2="398.58" y2="525.40" stroke="#1e1e1e" stroke-width="0.9"/>
<line x1="400.28" y1="524.00" x2="400.28" y2="525.40" stroke="#1e1e1e" stroke-width="0.9"/>
<line x1="411.79" y1="524.00" x2="411.79" y2="525.40" stroke="#1e1e1e" stroke-width="0.9"/>
<line x1="417.64" y1="524.00" x2="417.64" y2="525.40" stroke="#1e1e1e" stroke-width="0.9"/>
<line x1="421.79" y1="524.00" x2="421.79" y2="525.40" stroke="#1e1e1e" stroke-width="0.9"/>
<line x1="425.01" y1="524.00" x2="425.01" y2="525.40" stroke="#1e1e1e" stroke-width="0.9"/>
<line x1="427.63" y1="524.00" x2="427.63" y2="525.40" stroke="#1e1e1e" stroke-width="0.9"/>
<line x1="429.86" y1="524.00" x2="429.86" y2="525.40" stroke="#1e1e1e" stroke-width="0.9"/>
<line x1="431.78" y1="524.00" x2="431.78" y2="525.40" stroke="#1e1e1e" stroke-width="0.9"/>
<line x1="433.48" y1="524.00" x2="433.48" y2="525.40" stroke="#1e1e1e" stroke-width="0.9"/>
<line x1="302.20" y1="524.00" x2="302.20" y2="526.40" stroke="#1e1e1e" stroke-width="1.1"/>
<text stroke="#1e1e1e" stroke-width="0.3" x="302.70" y="534.60" font-size="7.2" font-weight="bold" fill="#1e1e1e" text-anchor="middle">10<tspan font-size="4.8" dy="-2.38" dx="0.3">-8</tspan></text>
<line x1="335.60" y1="524.00" x2="335.60" y2="526.40" stroke="#1e1e1e" stroke-width="1.1"/>
<text stroke="#1e1e1e" stroke-width="0.3" x="336.10" y="534.60" font-size="7.2" font-weight="bold" fill="#1e1e1e" text-anchor="middle">10<tspan font-size="4.8" dy="-2.38" dx="0.3">-7</tspan></text>
<line x1="369.00" y1="524.00" x2="369.00" y2="526.40" stroke="#1e1e1e" stroke-width="1.1"/>
<text stroke="#1e1e1e" stroke-width="0.3" x="369.50" y="534.60" font-size="7.2" font-weight="bold" fill="#1e1e1e" text-anchor="middle">10<tspan font-size="4.8" dy="-2.38" dx="0.3">-6</tspan></text>
<line x1="402.40" y1="524.00" x2="402.40" y2="526.40" stroke="#1e1e1e" stroke-width="1.1"/>
<text stroke="#1e1e1e" stroke-width="0.3" x="402.90" y="534.60" font-size="7.2" font-weight="bold" fill="#1e1e1e" text-anchor="middle">10<tspan font-size="4.8" dy="-2.38" dx="0.3">-5</tspan></text>
<line x1="435.00" y1="524.00" x2="435.00" y2="526.40" stroke="#1e1e1e" stroke-width="1.1"/>
<text stroke="#1e1e1e" stroke-width="0.3" x="435.50" y="534.60" font-size="7.2" font-weight="bold" fill="#1e1e1e" text-anchor="middle">10<tspan font-size="4.8" dy="-2.38" dx="0.3">-4</tspan></text>
<text stroke="#1e1e1e" stroke-width="0.3" x="363.00" y="545.40" font-size="7.3" font-weight="bold" fill="#1e1e1e" text-anchor="middle" textLength="49.5" lengthAdjust="spacingAndGlyphs">CH-223191 (M)</text>
<text stroke="#1e1e1e" stroke-width="0.3" x="270.70" y="497.40" font-size="9.8" font-weight="bold" fill="#1e1e1e" transform="rotate(-90 270.70 497.40)" textLength="10.2" lengthAdjust="spacingAndGlyphs">ΔF</text>
<text stroke="#1e1e1e" stroke-width="0.3" x="271.60" y="486.40" font-size="8.7" font-weight="bold" fill="#1e1e1e" transform="rotate(-90 271.60 486.40)" textLength="14.6" lengthAdjust="spacingAndGlyphs">norm</text>
<text stroke="#1e1e1e" stroke-width="0.3" x="269.60" y="468.00" font-size="7.8" font-weight="bold" fill="#1e1e1e" transform="rotate(-90 269.60 468.00)" textLength="12.4" lengthAdjust="spacingAndGlyphs">(‰)</text>
<text x="303.40" y="441.20" font-size="8.8" fill="#222" stroke="#222" stroke-width="0.08" textLength="61" lengthAdjust="spacingAndGlyphs">K<tspan font-size="4.40" dy="1.76">d</tspan><tspan dy="-1.76"> = 496 ± 82 nM</tspan></text>
<line x1="295.80" y1="499.60" x2="425.20" y2="499.60" stroke="#a6a6a6" stroke-width="1.2"/>
<line x1="291.00" y1="499.60" x2="432.70" y2="499.60" stroke="#111" stroke-width="1.2" stroke-dasharray="1.2 1.2"/>
<circle cx="295.80" cy="505.50" r="1.00" fill="#a6a6a6" stroke="none" stroke-width="1"/>
<circle cx="305.75" cy="505.50" r="1.00" fill="#a6a6a6" stroke="none" stroke-width="1"/>
<circle cx="315.70" cy="502.20" r="1.00" fill="#a6a6a6" stroke="none" stroke-width="1"/>
<circle cx="325.65" cy="499.60" r="1.00" fill="#a6a6a6" stroke="none" stroke-width="1"/>
<line x1="335.60" y1="491.00" x2="335.60" y2="499.60" stroke="#a6a6a6" stroke-width="1.0"/>
<line x1="334.50" y1="491.00" x2="336.70" y2="491.00" stroke="#a6a6a6" stroke-width="1.0"/>
<line x1="334.50" y1="499.60" x2="336.70" y2="499.60" stroke="#a6a6a6" stroke-width="1.0"/>
<circle cx="335.60" cy="495.00" r="1.00" fill="#a6a6a6" stroke="none" stroke-width="1"/>
<circle cx="345.55" cy="499.60" r="1.00" fill="#a6a6a6" stroke="none" stroke-width="1"/>
<line x1="355.50" y1="493.60" x2="355.50" y2="503.60" stroke="#a6a6a6" stroke-width="1.0"/>
<line x1="354.40" y1="493.60" x2="356.60" y2="493.60" stroke="#a6a6a6" stroke-width="1.0"/>
<line x1="354.40" y1="503.60" x2="356.60" y2="503.60" stroke="#a6a6a6" stroke-width="1.0"/>
<circle cx="355.50" cy="498.60" r="1.00" fill="#a6a6a6" stroke="none" stroke-width="1"/>
<line x1="365.45" y1="492.40" x2="365.45" y2="504.00" stroke="#a6a6a6" stroke-width="1.0"/>
<line x1="364.35" y1="492.40" x2="366.55" y2="492.40" stroke="#a6a6a6" stroke-width="1.0"/>
<line x1="364.35" y1="504.00" x2="366.55" y2="504.00" stroke="#a6a6a6" stroke-width="1.0"/>
<circle cx="365.45" cy="498.00" r="1.00" fill="#a6a6a6" stroke="none" stroke-width="1"/>
<line x1="375.40" y1="491.30" x2="375.40" y2="503.60" stroke="#a6a6a6" stroke-width="1.0"/>
<line x1="374.30" y1="491.30" x2="376.50" y2="491.30" stroke="#a6a6a6" stroke-width="1.0"/>
<line x1="374.30" y1="503.60" x2="376.50" y2="503.60" stroke="#a6a6a6" stroke-width="1.0"/>
<circle cx="375.40" cy="497.50" r="1.00" fill="#a6a6a6" stroke="none" stroke-width="1"/>
<line x1="385.35" y1="490.50" x2="385.35" y2="504.00" stroke="#a6a6a6" stroke-width="1.0"/>
<line x1="384.25" y1="490.50" x2="386.45" y2="490.50" stroke="#a6a6a6" stroke-width="1.0"/>
<line x1="384.25" y1="504.00" x2="386.45" y2="504.00" stroke="#a6a6a6" stroke-width="1.0"/>
<circle cx="385.35" cy="497.30" r="1.00" fill="#a6a6a6" stroke="none" stroke-width="1"/>
<circle cx="395.30" cy="501.80" r="1.00" fill="#a6a6a6" stroke="none" stroke-width="1"/>
<line x1="405.25" y1="491.00" x2="405.25" y2="496.40" stroke="#a6a6a6" stroke-width="1.0"/>
<line x1="404.15" y1="491.00" x2="406.35" y2="491.00" stroke="#a6a6a6" stroke-width="1.0"/>
<line x1="404.15" y1="496.40" x2="406.35" y2="496.40" stroke="#a6a6a6" stroke-width="1.0"/>
<circle cx="405.25" cy="494.00" r="1.00" fill="#a6a6a6" stroke="none" stroke-width="1"/>
<line x1="415.20" y1="497.80" x2="415.20" y2="500.90" stroke="#a6a6a6" stroke-width="1.0"/>
<line x1="414.10" y1="497.80" x2="416.30" y2="497.80" stroke="#a6a6a6" stroke-width="1.0"/>
<line x1="414.10" y1="500.90" x2="416.30" y2="500.90" stroke="#a6a6a6" stroke-width="1.0"/>
<circle cx="415.20" cy="499.40" r="1.00" fill="#a6a6a6" stroke="none" stroke-width="1"/>
<line x1="425.15" y1="498.50" x2="425.15" y2="519.60" stroke="#a6a6a6" stroke-width="1.0"/>
<line x1="424.05" y1="498.50" x2="426.25" y2="498.50" stroke="#a6a6a6" stroke-width="1.0"/>
<line x1="424.05" y1="519.60" x2="426.25" y2="519.60" stroke="#a6a6a6" stroke-width="1.0"/>
<circle cx="425.15" cy="509.00" r="1.00" fill="#a6a6a6" stroke="none" stroke-width="1"/>
<polyline points="295.80,498.70 297.42,498.61 299.04,498.52 300.65,498.42 302.27,498.31 303.89,498.18 305.50,498.04 307.12,497.89 308.74,497.72 310.36,497.53 311.98,497.32 313.59,497.08 315.21,496.83 316.83,496.54 318.44,496.23 320.06,495.89 321.68,495.51 323.30,495.10 324.92,494.65 326.53,494.16 328.15,493.63 329.77,493.06 331.38,492.44 333.00,491.77 334.62,491.06 336.24,490.29 337.86,489.48 339.47,488.62 341.09,487.72 342.71,486.78 344.32,485.79 345.94,484.78 347.56,483.73 349.18,482.65 350.80,481.56 352.41,480.46 354.03,479.35 355.65,478.24 357.26,477.14 358.88,476.05 360.50,474.99 362.12,473.95 363.74,472.95 365.35,471.98 366.97,471.06 368.59,470.18 370.20,469.34 371.82,468.55 373.44,467.81 375.06,467.12 376.68,466.47 378.29,465.87 379.91,465.32 381.53,464.81 383.14,464.34 384.76,463.91 386.38,463.51 388.00,463.15 389.62,462.82 391.23,462.52 392.85,462.25 394.47,462.01 396.08,461.78 397.70,461.58 399.32,461.40 400.94,461.24 402.55,461.09 404.17,460.96 405.79,460.84 407.41,460.73 409.02,460.63 410.64,460.55 412.26,460.47 413.88,460.40 415.50,460.34 417.11,460.28 418.73,460.23 420.35,460.18 421.97,460.14 423.58,460.11 425.20,460.08" fill="none" stroke="#2a9cbc" stroke-width="1.3" stroke-linejoin="round" stroke-linecap="round"/>
<circle cx="295.80" cy="499.10" r="1.20" fill="#2a9cbc" stroke="none" stroke-width="1"/>
<circle cx="305.75" cy="499.60" r="1.20" fill="#2a9cbc" stroke="none" stroke-width="1"/>
<circle cx="315.70" cy="497.30" r="1.20" fill="#2a9cbc" stroke="none" stroke-width="1"/>
<line x1="325.65" y1="488.70" x2="325.65" y2="498.50" stroke="#2a9cbc" stroke-width="1.2"/>
<line x1="324.35" y1="488.70" x2="326.95" y2="488.70" stroke="#2a9cbc" stroke-width="1.2"/>
<line x1="324.35" y1="498.50" x2="326.95" y2="498.50" stroke="#2a9cbc" stroke-width="1.2"/>
<circle cx="325.65" cy="494.50" r="1.20" fill="#2a9cbc" stroke="none" stroke-width="1"/>
<line x1="335.60" y1="488.70" x2="335.60" y2="494.90" stroke="#2a9cbc" stroke-width="1.2"/>
<line x1="334.30" y1="488.70" x2="336.90" y2="488.70" stroke="#2a9cbc" stroke-width="1.2"/>
<line x1="334.30" y1="494.90" x2="336.90" y2="494.90" stroke="#2a9cbc" stroke-width="1.2"/>
<circle cx="335.60" cy="491.80" r="1.20" fill="#2a9cbc" stroke="none" stroke-width="1"/>
<line x1="345.55" y1="482.70" x2="345.55" y2="488.20" stroke="#2a9cbc" stroke-width="1.2"/>
<line x1="344.25" y1="482.70" x2="346.85" y2="482.70" stroke="#2a9cbc" stroke-width="1.2"/>
<line x1="344.25" y1="488.20" x2="346.85" y2="488.20" stroke="#2a9cbc" stroke-width="1.2"/>
<circle cx="345.55" cy="485.80" r="1.20" fill="#2a9cbc" stroke="none" stroke-width="1"/>
<line x1="355.50" y1="471.80" x2="355.50" y2="490.90" stroke="#2a9cbc" stroke-width="1.2"/>
<line x1="354.20" y1="471.80" x2="356.80" y2="471.80" stroke="#2a9cbc" stroke-width="1.2"/>
<line x1="354.20" y1="490.90" x2="356.80" y2="490.90" stroke="#2a9cbc" stroke-width="1.2"/>
<circle cx="355.50" cy="481.00" r="1.20" fill="#2a9cbc" stroke="none" stroke-width="1"/>
<line x1="365.45" y1="460.40" x2="365.45" y2="484.50" stroke="#2a9cbc" stroke-width="1.2"/>
<line x1="364.15" y1="460.40" x2="366.75" y2="460.40" stroke="#2a9cbc" stroke-width="1.2"/>
<line x1="364.15" y1="484.50" x2="366.75" y2="484.50" stroke="#2a9cbc" stroke-width="1.2"/>
<circle cx="365.45" cy="472.20" r="1.20" fill="#2a9cbc" stroke="none" stroke-width="1"/>
<line x1="375.40" y1="455.50" x2="375.40" y2="476.00" stroke="#2a9cbc" stroke-width="1.2"/>
<line x1="374.10" y1="455.50" x2="376.70" y2="455.50" stroke="#2a9cbc" stroke-width="1.2"/>
<line x1="374.10" y1="476.00" x2="376.70" y2="476.00" stroke="#2a9cbc" stroke-width="1.2"/>
<circle cx="375.40" cy="465.10" r="1.20" fill="#2a9cbc" stroke="none" stroke-width="1"/>
<line x1="385.35" y1="446.40" x2="385.35" y2="469.50" stroke="#2a9cbc" stroke-width="1.2"/>
<line x1="384.05" y1="446.40" x2="386.65" y2="446.40" stroke="#2a9cbc" stroke-width="1.2"/>
<line x1="384.05" y1="469.50" x2="386.65" y2="469.50" stroke="#2a9cbc" stroke-width="1.2"/>
<circle cx="385.35" cy="457.80" r="1.20" fill="#2a9cbc" stroke="none" stroke-width="1"/>
<line x1="395.30" y1="452.70" x2="395.30" y2="465.50" stroke="#2a9cbc" stroke-width="1.2"/>
<line x1="394.00" y1="452.70" x2="396.60" y2="452.70" stroke="#2a9cbc" stroke-width="1.2"/>
<line x1="394.00" y1="465.50" x2="396.60" y2="465.50" stroke="#2a9cbc" stroke-width="1.2"/>
<circle cx="395.30" cy="459.10" r="1.20" fill="#2a9cbc" stroke="none" stroke-width="1"/>
<line x1="405.25" y1="454.90" x2="405.25" y2="463.60" stroke="#2a9cbc" stroke-width="1.2"/>
<line x1="403.95" y1="454.90" x2="406.55" y2="454.90" stroke="#2a9cbc" stroke-width="1.2"/>
<line x1="403.95" y1="463.60" x2="406.55" y2="463.60" stroke="#2a9cbc" stroke-width="1.2"/>
<circle cx="405.25" cy="460.90" r="1.20" fill="#2a9cbc" stroke="none" stroke-width="1"/>
<line x1="415.20" y1="457.30" x2="415.20" y2="468.20" stroke="#2a9cbc" stroke-width="1.2"/>
<line x1="413.90" y1="457.30" x2="416.50" y2="457.30" stroke="#2a9cbc" stroke-width="1.2"/>
<line x1="413.90" y1="468.20" x2="416.50" y2="468.20" stroke="#2a9cbc" stroke-width="1.2"/>
<circle cx="415.20" cy="461.80" r="1.20" fill="#2a9cbc" stroke="none" stroke-width="1"/>
<line x1="425.15" y1="458.50" x2="425.15" y2="480.40" stroke="#2a9cbc" stroke-width="1.2"/>
<line x1="423.85" y1="458.50" x2="426.45" y2="458.50" stroke="#2a9cbc" stroke-width="1.2"/>
<line x1="423.85" y1="480.40" x2="426.45" y2="480.40" stroke="#2a9cbc" stroke-width="1.2"/>
<circle cx="425.15" cy="469.50" r="1.20" fill="#2a9cbc" stroke="none" stroke-width="1"/>
<line x1="433.80" y1="430.30" x2="445.30" y2="430.30" stroke="#2a9cbc" stroke-width="1.7"/>
<circle cx="439.55" cy="430.30" r="1.20" fill="#2a9cbc" stroke="none" stroke-width="1"/>
<text stroke="#2a9cbc" stroke-width="0.3" x="450.40" y="432.73" font-size="6.8" font-weight="bold" fill="#2a9cbc" textLength="35" lengthAdjust="spacingAndGlyphs">AhR-mArnt</text>
<line x1="433.80" y1="440.30" x2="445.30" y2="440.30" stroke="#9c9c9c" stroke-width="1.2"/>
<circle cx="439.55" cy="440.30" r="1.00" fill="#9c9c9c" stroke="none" stroke-width="1"/>
<text x="450.40" y="442.93" font-size="7.1" fill="#9c9c9c" stroke="#9c9c9c" stroke-width="0.05" textLength="19.2" lengthAdjust="spacingAndGlyphs">mArnt</text>
<line x1="244.30" y1="79.80" x2="244.30" y2="139.00" stroke="#1a1a1a" stroke-width="1.0"/>
<line x1="243.80" y1="138.50" x2="331.00" y2="138.50" stroke="#1a1a1a" stroke-width="1.0"/>
<line x1="242.40" y1="80.50" x2="244.30" y2="80.50" stroke="#1a1a1a" stroke-width="0.9"/>
<text x="241.30" y="82.15" font-size="4.6" font-weight="bold" fill="#111" stroke="#111" stroke-width="0.18" text-anchor="end">1.05</text>
<line x1="242.40" y1="92.10" x2="244.30" y2="92.10" stroke="#1a1a1a" stroke-width="0.9"/>
<text x="241.30" y="93.75" font-size="4.6" font-weight="bold" fill="#111" stroke="#111" stroke-width="0.18" text-anchor="end">1.00</text>
<line x1="242.40" y1="103.70" x2="244.30" y2="103.70" stroke="#1a1a1a" stroke-width="0.9"/>
<text x="241.30" y="105.35" font-size="4.6" font-weight="bold" fill="#111" stroke="#111" stroke-width="0.18" text-anchor="end">0.95</text>
<line x1="242.40" y1="115.30" x2="244.30" y2="115.30" stroke="#1a1a1a" stroke-width="0.9"/>
<text x="241.30" y="116.95" font-size="4.6" font-weight="bold" fill="#111" stroke="#111" stroke-width="0.18" text-anchor="end">0.90</text>
<line x1="242.40" y1="126.90" x2="244.30" y2="126.90" stroke="#1a1a1a" stroke-width="0.9"/>
<text x="241.30" y="128.55" font-size="4.6" font-weight="bold" fill="#111" stroke="#111" stroke-width="0.18" text-anchor="end">0.85</text>
<line x1="242.40" y1="138.50" x2="244.30" y2="138.50" stroke="#1a1a1a" stroke-width="0.9"/>
<text x="241.30" y="140.15" font-size="4.6" font-weight="bold" fill="#111" stroke="#111" stroke-width="0.18" text-anchor="end">0.80</text>
<line x1="244.70" y1="138.50" x2="244.70" y2="140.30" stroke="#1a1a1a" stroke-width="0.9"/>
<text x="244.70" y="145.20" font-size="4.7" font-weight="bold" fill="#111" stroke="#111" stroke-width="0.18" text-anchor="middle">-5</text>
<line x1="255.42" y1="138.50" x2="255.42" y2="140.30" stroke="#1a1a1a" stroke-width="0.9"/>
<text x="255.42" y="145.20" font-size="4.7" font-weight="bold" fill="#111" stroke="#111" stroke-width="0.18" text-anchor="middle">0</text>
<line x1="266.15" y1="138.50" x2="266.15" y2="140.30" stroke="#1a1a1a" stroke-width="0.9"/>
<text x="266.15" y="145.20" font-size="4.7" font-weight="bold" fill="#111" stroke="#111" stroke-width="0.18" text-anchor="middle">5</text>
<line x1="276.88" y1="138.50" x2="276.88" y2="140.30" stroke="#1a1a1a" stroke-width="0.9"/>
<text x="276.88" y="145.20" font-size="4.7" font-weight="bold" fill="#111" stroke="#111" stroke-width="0.18" text-anchor="middle">10</text>
<line x1="287.60" y1="138.50" x2="287.60" y2="140.30" stroke="#1a1a1a" stroke-width="0.9"/>
<text x="287.60" y="145.20" font-size="4.7" font-weight="bold" fill="#111" stroke="#111" stroke-width="0.18" text-anchor="middle">15</text>
<line x1="298.32" y1="138.50" x2="298.32" y2="140.30" stroke="#1a1a1a" stroke-width="0.9"/>
<text x="298.32" y="145.20" font-size="4.7" font-weight="bold" fill="#111" stroke="#111" stroke-width="0.18" text-anchor="middle">20</text>
<line x1="309.05" y1="138.50" x2="309.05" y2="140.30" stroke="#1a1a1a" stroke-width="0.9"/>
<text x="309.05" y="145.20" font-size="4.7" font-weight="bold" fill="#111" stroke="#111" stroke-width="0.18" text-anchor="middle">25</text>
<line x1="319.77" y1="138.50" x2="319.77" y2="140.30" stroke="#1a1a1a" stroke-width="0.9"/>
<text x="319.77" y="145.20" font-size="4.7" font-weight="bold" fill="#111" stroke="#111" stroke-width="0.18" text-anchor="middle">30</text>
<line x1="330.50" y1="138.50" x2="330.50" y2="140.30" stroke="#1a1a1a" stroke-width="0.9"/>
<text x="330.50" y="145.20" font-size="4.7" font-weight="bold" fill="#111" stroke="#111" stroke-width="0.18" text-anchor="middle">35</text>
<text x="230.1" y="108.85" font-size="6.0" fill="#1a1a1a" stroke="#1a1a1a" stroke-width="0.25" text-anchor="middle" transform="rotate(-90 230.1 108.85)" textLength="65.5" lengthAdjust="spacingAndGlyphs">Normalized Fluorescence</text>
<text x="286.8" y="154.4" font-size="6.3" font-weight="bold" fill="#1a1a1a" stroke="none" text-anchor="middle" textLength="70" lengthAdjust="spacingAndGlyphs">MST experiment time <tspan font-weight="normal">(s)</tspan></text>
<polyline points="255.42,98.40 255.85,99.33 256.28,100.28 256.71,101.43 257.14,102.21 257.57,103.02 258.00,104.04 258.43,105.13 258.86,105.79 259.29,106.46 259.71,106.79 260.14,107.60 260.57,108.04 261.00,108.53 261.43,109.02 261.86,109.59 262.29,110.49 262.72,110.88 263.15,111.29 263.58,111.70 264.00,111.72 264.43,112.16 264.86,112.69 265.29,113.09 265.72,113.48 266.15,113.79 266.58,113.60 267.01,114.19 267.44,114.49 267.87,114.64 268.29,114.68 268.72,115.08 269.15,115.06 269.58,115.78 270.01,115.93 270.44,115.93 270.87,115.96 271.30,116.50 271.73,116.46 272.16,116.81 272.58,116.94 273.01,116.88 273.44,116.96 273.87,117.21 274.30,117.24 274.73,117.20 275.16,117.40 275.59,117.82 276.02,117.47 276.45,117.58 276.88,118.03 277.30,117.92 277.73,118.17 278.16,118.22 278.59,118.23 279.02,118.71 279.45,118.31 279.88,118.52 280.31,118.47 280.74,118.80 281.16,118.66 281.59,118.78 282.02,119.08 282.45,118.89 282.88,119.09 283.31,119.36 283.74,118.94 284.17,118.97 284.60,119.13 285.03,119.50 285.45,119.47 285.88,119.29 286.31,119.39 286.74,119.35 287.17,119.57 287.60,119.36 288.03,119.80 288.46,119.96 288.89,120.04 289.32,119.94 289.75,120.12 290.17,119.59 290.60,119.79 291.03,120.23 291.46,120.15 291.89,119.97 292.32,120.32 292.75,120.16 293.18,120.31 293.61,120.03 294.03,120.00 294.46,120.18 294.89,120.02 295.32,120.20 295.75,120.57 296.18,120.22 296.61,120.05 297.04,120.10 297.47,120.20 297.90,120.59 298.32,120.37 298.75,120.34 299.18,120.25 299.61,120.80 300.04,120.49 300.47,120.38 300.90,120.32 301.33,120.33 301.76,120.42 302.19,120.75 302.62,120.45 303.04,120.40 303.47,120.69 303.90,120.56 304.33,121.03 304.76,120.52 305.19,120.78 305.62,120.95 306.05,120.74 306.48,121.11 306.90,120.82 307.33,120.69 307.76,120.81 308.19,120.60 308.62,120.84 309.05,120.75 309.48,121.15 309.91,121.13 310.34,120.94 310.77,120.68 311.19,120.82 311.62,120.83 312.05,120.82 312.48,120.85 312.91,121.24 313.34,120.82 313.77,120.77 314.20,121.31 314.63,121.11 315.06,121.37 315.49,121.03 315.91,121.34 316.34,121.20 316.77,121.29 317.20,121.28 317.63,121.14 318.06,120.91 318.49,120.99 318.92,121.39 319.35,121.42 319.77,121.44 320.13,119.87 320.49,118.79 320.85,117.75 321.20,116.65 321.56,115.87 321.92,114.90 322.28,114.28 322.63,113.68 322.99,112.87 323.35,112.77 323.71,112.36 324.06,111.44 324.42,111.64 324.78,111.33 325.14,110.88 325.50,110.27 325.85,110.57 326.21,109.91 326.57,110.25 326.93,109.92 327.28,109.42 327.64,109.37 328.00,109.55 328.36,109.42 328.71,109.44 329.07,109.48 329.43,108.99 329.78,108.80 330.14,109.30 330.50,108.71" fill="none" stroke="#d21a24" stroke-width="2.3" stroke-linejoin="round" stroke-linecap="round"/>
<polyline points="255.42,98.40 255.85,99.49 256.28,100.85 256.71,101.86 257.14,103.05 257.57,104.05 258.00,104.65 258.43,105.51 258.86,106.84 259.29,107.29 259.71,108.02 260.14,109.19 260.57,109.54 261.00,110.40 261.43,110.79 261.86,111.45 262.29,111.70 262.72,112.51 263.15,113.14 263.58,113.39 264.00,113.97 264.43,114.34 264.86,114.38 265.29,115.17 265.72,115.43 266.15,115.60 266.58,115.76 267.01,116.57 267.44,116.64 267.87,117.07 268.29,117.43 268.72,117.59 269.15,117.96 269.58,117.88 270.01,118.35 270.44,118.35 270.87,118.85 271.30,119.01 271.73,118.73 272.16,118.93 272.58,119.16 273.01,119.77 273.44,119.61 273.87,119.88 274.30,119.83 274.73,120.10 275.16,120.16 275.59,120.27 276.02,120.53 276.45,120.65 276.88,120.96 277.30,120.94 277.73,121.20 278.16,121.26 278.59,121.44 279.02,121.34 279.45,121.13 279.88,121.64 280.31,121.79 280.74,121.84 281.16,121.72 281.59,121.88 282.02,121.66 282.45,122.10 282.88,122.02 283.31,121.91 283.74,121.85 284.17,122.39 284.60,122.53 285.03,122.05 285.45,122.54 285.88,122.36 286.31,122.26 286.74,122.40 287.17,122.74 287.60,122.85 288.03,122.40 288.46,122.79 288.89,122.50 289.32,122.95 289.75,122.76 290.17,123.13 290.60,123.23 291.03,122.99 291.46,123.32 291.89,122.95 292.32,122.85 292.75,123.20 293.18,122.89 293.61,123.03 294.03,123.19 294.46,123.34 294.89,123.10 295.32,123.06 295.75,123.59 296.18,123.29 296.61,123.70 297.04,123.70 297.47,123.41 297.90,123.49 298.32,123.55 298.75,123.65 299.18,123.65 299.61,123.65 300.04,123.71 300.47,123.93 300.90,123.69 301.33,123.67 301.76,123.86 302.19,123.60 302.62,123.66 303.04,124.08 303.47,123.83 303.90,123.87 304.33,123.56 304.76,123.82 305.19,123.94 305.62,123.62 306.05,124.00 306.48,124.03 306.90,123.70 307.33,124.06 307.76,123.98 308.19,124.12 308.62,123.94 309.05,124.17 309.48,124.20 309.91,123.79 310.34,123.83 310.77,124.21 311.19,124.40 311.62,123.98 312.05,124.12 312.48,124.22 312.91,124.07 313.34,124.11 313.77,124.09 314.20,124.13 314.63,124.28 315.06,124.12 315.49,124.18 315.91,124.42 316.34,123.99 316.77,124.33 317.20,124.44 317.63,124.19 318.06,124.15 318.49,124.51 318.92,124.18 319.35,124.16 319.77,124.32 320.13,123.26 320.49,121.61 320.85,120.60 321.20,119.59 321.56,118.98 321.92,117.95 322.28,117.48 322.63,116.44 322.99,115.98 323.35,115.67 323.71,115.37 324.06,114.71 324.42,114.23 324.78,113.86 325.14,113.83 325.50,113.38 325.85,113.53 326.21,113.36 326.57,112.80 326.93,112.70 327.28,112.88 327.64,112.67 328.00,112.66 328.36,112.29 328.71,112.07 329.07,112.10 329.43,112.33 329.78,111.96 330.14,111.95 330.50,111.95" fill="none" stroke="#d21a24" stroke-width="1.5" stroke-linejoin="round" stroke-linecap="round"/>
<polyline points="255.42,98.40 255.85,99.58 256.28,101.44 256.71,102.66 257.14,103.51 257.57,104.82 258.00,105.87 258.43,107.03 258.86,108.09 259.29,108.52 259.71,109.33 260.14,110.71 260.57,111.21 261.00,112.17 261.43,112.33 261.86,113.30 262.29,114.12 262.72,114.36 263.15,115.43 263.58,115.93 264.00,115.83 264.43,116.31 264.86,117.13 265.29,117.84 265.72,117.86 266.15,118.14 266.58,118.66 267.01,118.74 267.44,119.22 267.87,119.70 268.29,120.05 268.72,120.16 269.15,120.44 269.58,120.70 270.01,121.13 270.44,121.26 270.87,121.31 271.30,122.10 271.73,122.12 272.16,122.39 272.58,122.27 273.01,123.02 273.44,123.11 273.87,122.77 274.30,123.09 274.73,123.52 275.16,123.67 275.59,123.98 276.02,123.76 276.45,124.19 276.88,124.21 277.30,124.08 277.73,124.40 278.16,124.73 278.59,124.82 279.02,124.69 279.45,124.85 279.88,124.57 280.31,124.81 280.74,125.30 281.16,125.12 281.59,125.04 282.02,125.39 282.45,125.59 282.88,125.65 283.31,125.52 283.74,125.64 284.17,125.76 284.60,126.02 285.03,125.91 285.45,125.89 285.88,126.02 286.31,125.76 286.74,125.83 287.17,126.36 287.60,126.61 288.03,126.39 288.46,126.31 288.89,126.20 289.32,126.49 289.75,126.88 290.17,126.78 290.60,126.66 291.03,126.93 291.46,126.54 291.89,126.78 292.32,127.13 292.75,126.91 293.18,126.87 293.61,126.77 294.03,127.01 294.46,127.33 294.89,126.70 295.32,127.28 295.75,127.34 296.18,127.42 296.61,127.35 297.04,127.43 297.47,127.26 297.90,127.32 298.32,127.26 298.75,127.03 299.18,127.63 299.61,127.44 300.04,127.21 300.47,127.45 300.90,127.46 301.33,127.40 301.76,127.42 302.19,127.58 302.62,127.66 303.04,127.68 303.47,127.59 303.90,127.31 304.33,127.48 304.76,127.46 305.19,127.77 305.62,127.98 306.05,127.96 306.48,127.98 306.90,128.01 307.33,127.63 307.76,128.06 308.19,127.96 308.62,127.57 309.05,127.54 309.48,127.55 309.91,128.09 310.34,127.75 310.77,127.67 311.19,128.05 311.62,127.87 312.05,127.69 312.48,127.77 312.91,128.04 313.34,127.80 313.77,127.89 314.20,128.21 314.63,128.04 315.06,127.96 315.49,128.08 315.91,127.78 316.34,128.05 316.77,128.08 317.20,127.93 317.63,127.89 318.06,128.46 318.49,128.19 318.92,128.00 319.35,128.28 319.77,128.44 320.13,126.79 320.49,125.57 320.85,124.58 321.20,124.01 321.56,122.77 321.92,122.39 322.28,121.70 322.63,121.01 322.99,120.25 323.35,120.31 323.71,119.77 324.06,119.20 324.42,118.67 324.78,118.67 325.14,118.24 325.50,118.13 325.85,117.75 326.21,117.78 326.57,117.22 326.93,117.25 327.28,117.59 327.64,117.41 328.00,116.91 328.36,117.21 328.71,116.75 329.07,117.12 329.43,116.92 329.78,116.63 330.14,116.47 330.50,116.26" fill="none" stroke="#141414" stroke-width="2.0" stroke-linejoin="round" stroke-linecap="round"/>
<polyline points="255.42,98.40 255.85,100.06 256.28,101.33 256.71,101.90 257.14,103.05 257.57,104.65 258.00,105.59 258.43,106.49 258.86,107.14 259.29,108.21 259.71,109.01 260.14,109.76 260.57,110.19 261.00,111.07 261.43,111.69 261.86,112.54 262.29,113.31 262.72,113.83 263.15,114.08 263.58,114.51 264.00,114.86 264.43,115.14 264.86,115.57 265.29,116.28 265.72,116.57 266.15,116.98 266.58,117.69 267.01,117.77 267.44,118.11 267.87,118.19 268.29,118.33 268.72,118.82 269.15,118.95 269.58,119.47 270.01,120.05 270.44,120.05 270.87,119.93 271.30,120.64 271.73,120.78 272.16,120.93 272.58,121.23 273.01,121.31 273.44,121.50 273.87,121.36 274.30,121.96 274.73,122.09 275.16,121.68 275.59,122.23 276.02,122.34 276.45,122.29 276.88,122.47 277.30,122.56 277.73,122.98 278.16,122.79 278.59,123.13 279.02,122.90 279.45,123.37 279.88,123.48 280.31,123.27 280.74,123.43 281.16,123.77 281.59,123.71 282.02,123.63 282.45,123.52 282.88,123.67 283.31,124.01 283.74,123.71 284.17,124.30 284.60,123.91 285.03,124.43 285.45,124.07 285.88,124.59 286.31,124.47 286.74,124.39 287.17,124.45 287.60,124.60 288.03,124.61 288.46,124.47 288.89,124.45 289.32,124.71 289.75,125.05 290.17,124.88 290.60,124.54 291.03,125.10 291.46,125.08 291.89,125.25 292.32,124.79 292.75,125.21 293.18,124.77 293.61,125.23 294.03,125.00 294.46,125.00 294.89,125.49 295.32,124.98 295.75,125.31 296.18,125.57 296.61,125.18 297.04,125.18 297.47,125.68 297.90,125.39 298.32,125.62 298.75,125.17 299.18,125.43 299.61,125.32 300.04,125.70 300.47,125.31 300.90,125.95 301.33,125.32 301.76,125.84 302.19,125.37 302.62,125.55 303.04,125.96 303.47,125.53 303.90,125.57 304.33,125.94 304.76,125.75 305.19,125.53 305.62,126.21 306.05,125.64 306.48,125.58 306.90,125.82 307.33,126.02 307.76,126.13 308.19,125.71 308.62,125.88 309.05,125.68 309.48,125.99 309.91,126.23 310.34,126.23 310.77,126.36 311.19,126.27 311.62,126.36 312.05,126.26 312.48,126.11 312.91,125.95 313.34,126.27 313.77,126.05 314.20,125.91 314.63,126.16 315.06,126.47 315.49,125.96 315.91,126.30 316.34,126.17 316.77,126.27 317.20,126.02 317.63,126.61 318.06,126.13 318.49,126.38 318.92,126.26 319.35,125.99 319.77,126.38 320.13,124.92 320.49,123.59 320.85,122.44 321.20,121.53 321.56,120.59 321.92,120.18 322.28,119.39 322.63,119.10 322.99,118.52 323.35,118.07 323.71,117.10 324.06,116.86 324.42,116.38 324.78,116.31 325.14,116.07 325.50,115.95 325.85,115.67 326.21,115.17 326.57,115.12 326.93,115.04 327.28,114.54 327.64,114.45 328.00,114.60 328.36,114.30 328.71,114.65 329.07,114.24 329.43,114.07 329.78,114.07 330.14,114.06 330.50,114.00" fill="none" stroke="#141414" stroke-width="2.0" stroke-linejoin="round" stroke-linecap="round"/>
<polyline points="244.70,92.30 255.42,98.40 256.07,100.00" fill="none" stroke="#141414" stroke-width="2.0" stroke-linejoin="round" stroke-linecap="round"/>
<text x="312.50" y="117.00" font-size="4.3" font-weight="bold" fill="#d21a24" stroke="#d21a24" stroke-width="0.1" text-anchor="middle">Bound</text>
<text x="272.20" y="132.80" font-size="4.3" font-weight="bold" fill="#222" stroke="#222" stroke-width="0.1" text-anchor="middle">Unbound</text>
<line x1="388.10" y1="85.30" x2="388.10" y2="145.60" stroke="#1a1a1a" stroke-width="1.0"/>
<line x1="386.40" y1="85.90" x2="388.10" y2="85.90" stroke="#1a1a1a" stroke-width="0.9"/>
<text x="385.90" y="87.55" font-size="4.6" font-weight="bold" fill="#111" stroke="#111" stroke-width="0.18" text-anchor="end">40</text>
<line x1="386.40" y1="97.78" x2="388.10" y2="97.78" stroke="#1a1a1a" stroke-width="0.9"/>
<text x="385.90" y="99.43" font-size="4.6" font-weight="bold" fill="#111" stroke="#111" stroke-width="0.18" text-anchor="end">30</text>
<line x1="386.40" y1="109.66" x2="388.10" y2="109.66" stroke="#1a1a1a" stroke-width="0.9"/>
<text x="385.90" y="111.31" font-size="4.6" font-weight="bold" fill="#111" stroke="#111" stroke-width="0.18" text-anchor="end">20</text>
<line x1="386.40" y1="121.54" x2="388.10" y2="121.54" stroke="#1a1a1a" stroke-width="0.9"/>
<text x="385.90" y="123.19" font-size="4.6" font-weight="bold" fill="#111" stroke="#111" stroke-width="0.18" text-anchor="end">10</text>
<line x1="386.40" y1="133.42" x2="388.10" y2="133.42" stroke="#1a1a1a" stroke-width="0.9"/>
<text x="385.90" y="135.07" font-size="4.6" font-weight="bold" fill="#111" stroke="#111" stroke-width="0.18" text-anchor="end">0</text>
<line x1="386.40" y1="145.30" x2="388.10" y2="145.30" stroke="#1a1a1a" stroke-width="0.9"/>
<text x="385.90" y="146.95" font-size="4.6" font-weight="bold" fill="#111" stroke="#111" stroke-width="0.18" text-anchor="end">-10</text>
<line x1="388.10" y1="133.20" x2="477.00" y2="133.20" stroke="#1a1a1a" stroke-width="1.0"/>
<line x1="381.00" y1="133.20" x2="381.00" y2="135.00" stroke="#1a1a1a" stroke-width="0.9"/>
<line x1="391.26" y1="133.20" x2="391.26" y2="134.30" stroke="#1a1a1a" stroke-width="0.6"/>
<line x1="393.94" y1="133.20" x2="393.94" y2="134.30" stroke="#1a1a1a" stroke-width="0.6"/>
<line x1="396.03" y1="133.20" x2="396.03" y2="134.30" stroke="#1a1a1a" stroke-width="0.6"/>
<line x1="397.73" y1="133.20" x2="397.73" y2="134.30" stroke="#1a1a1a" stroke-width="0.6"/>
<line x1="399.17" y1="133.20" x2="399.17" y2="134.30" stroke="#1a1a1a" stroke-width="0.6"/>
<line x1="400.42" y1="133.20" x2="400.42" y2="134.30" stroke="#1a1a1a" stroke-width="0.6"/>
<line x1="401.52" y1="133.20" x2="401.52" y2="134.30" stroke="#1a1a1a" stroke-width="0.6"/>
<line x1="402.50" y1="133.20" x2="402.50" y2="135.00" stroke="#1a1a1a" stroke-width="0.9"/>
<line x1="408.97" y1="133.20" x2="408.97" y2="134.30" stroke="#1a1a1a" stroke-width="0.6"/>
<line x1="412.76" y1="133.20" x2="412.76" y2="134.30" stroke="#1a1a1a" stroke-width="0.6"/>
<line x1="415.44" y1="133.20" x2="415.44" y2="134.30" stroke="#1a1a1a" stroke-width="0.6"/>
<line x1="417.53" y1="133.20" x2="417.53" y2="134.30" stroke="#1a1a1a" stroke-width="0.6"/>
<line x1="419.23" y1="133.20" x2="419.23" y2="134.30" stroke="#1a1a1a" stroke-width="0.6"/>
<line x1="420.67" y1="133.20" x2="420.67" y2="134.30" stroke="#1a1a1a" stroke-width="0.6"/>
<line x1="421.92" y1="133.20" x2="421.92" y2="134.30" stroke="#1a1a1a" stroke-width="0.6"/>
<line x1="423.02" y1="133.20" x2="423.02" y2="134.30" stroke="#1a1a1a" stroke-width="0.6"/>
<line x1="424.00" y1="133.20" x2="424.00" y2="135.00" stroke="#1a1a1a" stroke-width="0.9"/>
<line x1="430.47" y1="133.20" x2="430.47" y2="134.30" stroke="#1a1a1a" stroke-width="0.6"/>
<line x1="434.26" y1="133.20" x2="434.26" y2="134.30" stroke="#1a1a1a" stroke-width="0.6"/>
<line x1="436.94" y1="133.20" x2="436.94" y2="134.30" stroke="#1a1a1a" stroke-width="0.6"/>
<line x1="439.03" y1="133.20" x2="439.03" y2="134.30" stroke="#1a1a1a" stroke-width="0.6"/>
<line x1="440.73" y1="133.20" x2="440.73" y2="134.30" stroke="#1a1a1a" stroke-width="0.6"/>
<line x1="442.17" y1="133.20" x2="442.17" y2="134.30" stroke="#1a1a1a" stroke-width="0.6"/>
<line x1="443.42" y1="133.20" x2="443.42" y2="134.30" stroke="#1a1a1a" stroke-width="0.6"/>
<line x1="444.52" y1="133.20" x2="444.52" y2="134.30" stroke="#1a1a1a" stroke-width="0.6"/>
<line x1="445.50" y1="133.20" x2="445.50" y2="135.00" stroke="#1a1a1a" stroke-width="0.9"/>
<line x1="451.97" y1="133.20" x2="451.97" y2="134.30" stroke="#1a1a1a" stroke-width="0.6"/>
<line x1="455.76" y1="133.20" x2="455.76" y2="134.30" stroke="#1a1a1a" stroke-width="0.6"/>
<line x1="458.44" y1="133.20" x2="458.44" y2="134.30" stroke="#1a1a1a" stroke-width="0.6"/>
<line x1="460.53" y1="133.20" x2="460.53" y2="134.30" stroke="#1a1a1a" stroke-width="0.6"/>
<line x1="462.23" y1="133.20" x2="462.23" y2="134.30" stroke="#1a1a1a" stroke-width="0.6"/>
<line x1="463.67" y1="133.20" x2="463.67" y2="134.30" stroke="#1a1a1a" stroke-width="0.6"/>
<line x1="464.92" y1="133.20" x2="464.92" y2="134.30" stroke="#1a1a1a" stroke-width="0.6"/>
<line x1="466.02" y1="133.20" x2="466.02" y2="134.30" stroke="#1a1a1a" stroke-width="0.6"/>
<line x1="467.00" y1="133.20" x2="467.00" y2="135.00" stroke="#1a1a1a" stroke-width="0.9"/>
<line x1="473.47" y1="133.20" x2="473.47" y2="134.30" stroke="#1a1a1a" stroke-width="0.6"/>
<text x="402.50" y="141.9" font-size="4.8" fill="#222" stroke="#222" stroke-width="0.1" text-anchor="middle">0.1</text>
<text x="424.00" y="141.9" font-size="4.8" fill="#222" stroke="#222" stroke-width="0.1" text-anchor="middle">1</text>
<text x="445.50" y="141.9" font-size="4.8" fill="#222" stroke="#222" stroke-width="0.1" text-anchor="middle">10</text>
<text x="467.00" y="141.9" font-size="4.8" fill="#222" stroke="#222" stroke-width="0.1" text-anchor="middle">100</text>
<text x="432.7" y="154.6" font-size="6.3" font-weight="bold" fill="#1a1a1a" stroke="none" text-anchor="middle" textLength="77.6" lengthAdjust="spacingAndGlyphs">Ligand Concentration <tspan font-weight="normal">(μM)</tspan></text>
<text x="377.70" y="131.40" font-size="6.0" fill="#333" stroke="#333" stroke-width="0.12" transform="rotate(-90 377.70 131.40)" textLength="5.8" lengthAdjust="spacingAndGlyphs">ΔF</text>
<text x="379.20" y="124.80" font-size="5.0" fill="#333" stroke="#333" stroke-width="0.12" transform="rotate(-90 379.20 124.80)" textLength="10.9" lengthAdjust="spacingAndGlyphs">norm</text>
<text x="378.00" y="111.70" font-size="5.6" fill="#333" stroke="#333" stroke-width="0.12" transform="rotate(-90 378.00 111.70)" textLength="9.8" lengthAdjust="spacingAndGlyphs">(%)</text>
<polyline points="390.00,133.11 390.97,133.10 391.94,133.09 392.92,133.07 393.89,133.06 394.86,133.04 395.83,133.03 396.81,133.01 397.78,132.99 398.75,132.96 399.73,132.94 400.70,132.91 401.67,132.88 402.64,132.84 403.62,132.80 404.59,132.76 405.56,132.71 406.53,132.66 407.50,132.60 408.48,132.53 409.45,132.46 410.42,132.38 411.39,132.30 412.37,132.20 413.34,132.09 414.31,131.97 415.29,131.84 416.26,131.70 417.23,131.54 418.20,131.37 419.18,131.18 420.15,130.97 421.12,130.74 422.09,130.49 423.06,130.21 424.04,129.91 425.01,129.58 425.98,129.22 426.95,128.83 427.93,128.40 428.90,127.94 429.87,127.45 430.85,126.91 431.82,126.33 432.79,125.72 433.76,125.06 434.74,124.36 435.71,123.61 436.68,122.82 437.65,121.99 438.62,121.12 439.60,120.21 440.57,119.26 441.54,118.29 442.51,117.28 443.49,116.25 444.46,115.20 445.43,114.13 446.41,113.06 447.38,111.98 448.35,110.91 449.32,109.85 450.30,108.80 451.27,107.77 452.24,106.76 453.21,105.78 454.19,104.84 455.16,103.93 456.13,103.06 457.10,102.23 458.08,101.44 459.05,100.69 460.02,99.99 460.99,99.33 461.97,98.72 462.94,98.14 463.91,97.61 464.88,97.11 465.86,96.65 466.83,96.23 467.80,95.84" fill="none" stroke="#d0202e" stroke-width="1.2" stroke-linejoin="round" stroke-linecap="round"/>
<circle cx="391.00" cy="133.20" r="1.00" fill="#d0202e" stroke="none" stroke-width="1"/>
<circle cx="396.10" cy="134.00" r="1.00" fill="#d0202e" stroke="none" stroke-width="1"/>
<circle cx="403.80" cy="133.60" r="1.00" fill="#d0202e" stroke="none" stroke-width="1"/>
<circle cx="409.30" cy="126.40" r="1.00" fill="#d0202e" stroke="none" stroke-width="1"/>
<circle cx="415.90" cy="134.20" r="1.00" fill="#d0202e" stroke="none" stroke-width="1"/>
<circle cx="421.30" cy="130.40" r="1.00" fill="#d0202e" stroke="none" stroke-width="1"/>
<circle cx="428.40" cy="128.40" r="1.00" fill="#d0202e" stroke="none" stroke-width="1"/>
<circle cx="441.50" cy="118.40" r="1.00" fill="#d0202e" stroke="none" stroke-width="1"/>
<circle cx="448.50" cy="109.20" r="1.00" fill="#d0202e" stroke="none" stroke-width="1"/>
<circle cx="460.60" cy="100.20" r="1.00" fill="#d0202e" stroke="none" stroke-width="1"/>
<circle cx="467.30" cy="96.20" r="1.00" fill="#d0202e" stroke="none" stroke-width="1"/>
</svg></body></html>
